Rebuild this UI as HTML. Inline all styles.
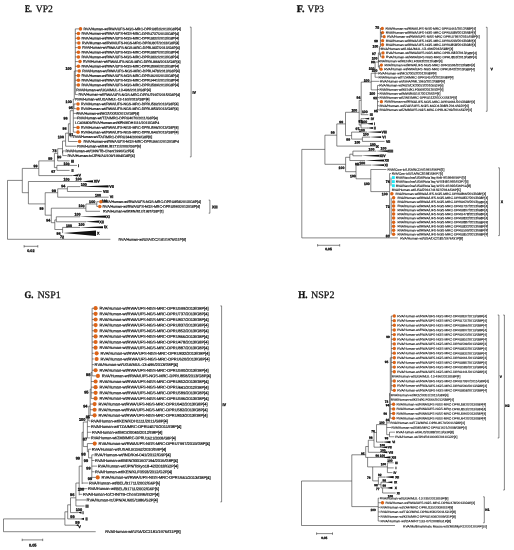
<!DOCTYPE html>
<html lang="en"><head><meta charset="utf-8"><title>Phylogenetic trees E-H</title>
<style>
html,body{margin:0;padding:0;background:#fff;}
body{width:514px;height:550px;overflow:hidden;font-family:"Liberation Sans",sans-serif;}
svg{display:block;font-family:"Liberation Sans",sans-serif;text-rendering:geometricPrecision;}
</style></head><body>
<svg width="514" height="550" viewBox="0 0 514 550">
<rect width="514" height="550" fill="#fff"/>
<text x="24.9" y="12.1" font-size="10" font-weight="700" font-family="Liberation Serif, serif" fill="#111" stroke="#111" stroke-width="0.35" textLength="7.0" lengthAdjust="spacingAndGlyphs">E.</text>
<text x="35.8" y="12.1" font-size="10" font-family="Liberation Serif, serif" fill="#111" stroke="#111" stroke-width="0.25" textLength="17.1" lengthAdjust="spacingAndGlyphs">VP2</text>
<path d="M75.30 28.90H79.00" stroke="#222" stroke-width="0.55" fill="none"/>
<circle cx="80.50" cy="28.90" r="1.78" fill="#DB6418"/>
<text transform="matrix(1 .0006 0 1 0 -0.050)" x="83.60" y="30.18" font-size="3.55" text-anchor="start" fill="#111" stroke="#111" stroke-width="0.18">RVA/Human-wt/RWA/UFS-NGS-MRC-DPRU852/2013/G8P[4]</text>
<path d="M75.30 33.57H76.90" stroke="#222" stroke-width="0.55" fill="none"/>
<circle cx="78.40" cy="33.57" r="1.78" fill="#DB6418"/>
<text transform="matrix(1 .0006 0 1 0 -0.049)" x="81.50" y="34.85" font-size="3.55" text-anchor="start" fill="#111" stroke="#111" stroke-width="0.18">RVA/Human-wt/RWA/UFS-NGS-MRC-DPRU737/2013/G8P[4]</text>
<path d="M75.30 38.24H76.90" stroke="#222" stroke-width="0.55" fill="none"/>
<circle cx="78.40" cy="38.24" r="1.78" fill="#DB6418"/>
<text transform="matrix(1 .0006 0 1 0 -0.049)" x="81.50" y="39.52" font-size="3.55" text-anchor="start" fill="#111" stroke="#111" stroke-width="0.18">RVA/Human-wt/RWA/UFS-NGS-MRC-DPRU832/2013/G8P[4]</text>
<path d="M75.30 42.91H77.30" stroke="#222" stroke-width="0.55" fill="none"/>
<circle cx="78.80" cy="42.91" r="1.78" fill="#DB6418"/>
<text transform="matrix(1 .0006 0 1 0 -0.049)" x="81.90" y="44.19" font-size="3.55" text-anchor="start" fill="#111" stroke="#111" stroke-width="0.18">RVA/Human-wt/RWA/UFS-NGS-MRC-DPRU807/2013/G8P[4]</text>
<path d="M75.30 47.58H77.70" stroke="#222" stroke-width="0.55" fill="none"/>
<circle cx="79.20" cy="47.58" r="1.78" fill="#DB6418"/>
<text transform="matrix(1 .0006 0 1 0 -0.049)" x="82.30" y="48.86" font-size="3.55" text-anchor="start" fill="#111" stroke="#111" stroke-width="0.18">RVA/Human-wt/RWA/UFS-NGS-MRC-DPRU837/2013/G8P[4]</text>
<path d="M75.30 52.25H76.90" stroke="#222" stroke-width="0.55" fill="none"/>
<circle cx="78.40" cy="52.25" r="1.78" fill="#DB6418"/>
<text transform="matrix(1 .0006 0 1 0 -0.049)" x="81.50" y="53.53" font-size="3.55" text-anchor="start" fill="#111" stroke="#111" stroke-width="0.18">RVA/Human-wt/RWA/UFS-NGS-MRC-DPRU887/2013/G8P[4]</text>
<path d="M75.30 56.92H76.90" stroke="#222" stroke-width="0.55" fill="none"/>
<circle cx="78.40" cy="56.92" r="1.78" fill="#DB6418"/>
<text transform="matrix(1 .0006 0 1 0 -0.049)" x="81.50" y="58.20" font-size="3.55" text-anchor="start" fill="#111" stroke="#111" stroke-width="0.18">RVA/Human-wt/RWA/UFS-NGS-MRC-DPRU832/2013/G8P[4]</text>
<path d="M75.30 61.59H78.50" stroke="#222" stroke-width="0.55" fill="none"/>
<circle cx="80.00" cy="61.59" r="1.78" fill="#DB6418"/>
<text transform="matrix(1 .0006 0 1 0 -0.050)" x="83.10" y="62.87" font-size="3.55" text-anchor="start" fill="#111" stroke="#111" stroke-width="0.18">RVA/Human-wt/RWA/UFS-NGS-MRC-DPRU866/2013/G8P[4]</text>
<path d="M75.30 66.26H76.90" stroke="#222" stroke-width="0.55" fill="none"/>
<circle cx="78.40" cy="66.26" r="1.78" fill="#DB6418"/>
<text transform="matrix(1 .0006 0 1 0 -0.049)" x="81.50" y="67.54" font-size="3.55" text-anchor="start" fill="#111" stroke="#111" stroke-width="0.18">RVA/Human-wt/RWA/UFS-NGS-MRC-DPRU599/2013/G8P[4]</text>
<path d="M75.30 70.93H77.70" stroke="#222" stroke-width="0.55" fill="none"/>
<circle cx="79.20" cy="70.93" r="1.78" fill="#DB6418"/>
<text transform="matrix(1 .0006 0 1 0 -0.049)" x="82.30" y="72.21" font-size="3.55" text-anchor="start" fill="#111" stroke="#111" stroke-width="0.18">RVA/Human-wt/RWA/UFS-NGS-MRC-DPRU478/2013/G8P[4]</text>
<path d="M75.30 75.60H76.90" stroke="#222" stroke-width="0.55" fill="none"/>
<circle cx="78.40" cy="75.60" r="1.78" fill="#DB6418"/>
<text transform="matrix(1 .0006 0 1 0 -0.049)" x="81.50" y="76.88" font-size="3.55" text-anchor="start" fill="#111" stroke="#111" stroke-width="0.18">RVA/Human-wt/RWA/UFS-NGS-MRC-DPRU620/2013/G8P[4]</text>
<path d="M75.30 80.27H76.90" stroke="#222" stroke-width="0.55" fill="none"/>
<circle cx="78.40" cy="80.27" r="1.78" fill="#DB6418"/>
<text transform="matrix(1 .0006 0 1 0 -0.049)" x="81.50" y="81.55" font-size="3.55" text-anchor="start" fill="#111" stroke="#111" stroke-width="0.18">RVA/Human-wt/RWA/UFS-NGS-MRC-DPRU441/2012/G8P[4]</text>
<path d="M75.30 84.94H76.90" stroke="#222" stroke-width="0.55" fill="none"/>
<circle cx="78.40" cy="84.94" r="1.78" fill="#DB6418"/>
<text transform="matrix(1 .0006 0 1 0 -0.049)" x="81.50" y="86.22" font-size="3.55" text-anchor="start" fill="#111" stroke="#111" stroke-width="0.18">RVA/Human-wt/RWA/UFS-NGS-MRC-DPRU589/2013/G8P[4]</text>
<path d="M75.30 28.90V94.59" stroke="#222" stroke-width="0.55" fill="none"/>
<text transform="matrix(1 .0006 0 1 0 -0.046)" x="76.30" y="91.18" font-size="3.55" text-anchor="start" fill="#111" stroke="#111" stroke-width="0.18">RVA/Human-wt/UGA/MUL-13-496/2013/G8P[4]</text>
<path d="M75.30 94.59H77.80" stroke="#222" stroke-width="0.55" fill="none"/>
<text transform="matrix(1 .0006 0 1 0 -0.047)" x="78.50" y="95.87" font-size="3.55" text-anchor="start" fill="#111" stroke="#111" stroke-width="0.18" textLength="101.5" lengthAdjust="spacingAndGlyphs">RVA/Human-wt/RWA/UFS-NGS-MRC-DPRU7997/2015/G8P[4]</text>
<text transform="matrix(1 .0006 0 1 0 -0.041)" x="68.50" y="69.83" font-size="3.7" font-weight="700" text-anchor="middle" fill="#111" stroke="#111" stroke-width="0.3">100</text>
<path d="M74.30 71.00H75.30" stroke="#222" stroke-width="0.55" fill="none"/>
<path d="M74.30 71.00V99.29" stroke="#222" stroke-width="0.55" fill="none"/>
<text transform="matrix(1 .0006 0 1 0 -0.045)" x="75.20" y="100.57" font-size="3.55" text-anchor="start" fill="#111" stroke="#111" stroke-width="0.18">RVA/Human-wt/UGA/MUL-13-160/2013/G8P[4]</text>
<path d="M73.30 99.29H74.30" stroke="#222" stroke-width="0.55" fill="none"/>
<path d="M73.30 99.29V132.15" stroke="#222" stroke-width="0.55" fill="none"/>
<path d="M74.00 103.98H76.50" stroke="#222" stroke-width="0.55" fill="none"/>
<circle cx="78.00" cy="103.98" r="1.78" fill="#DB6418"/>
<text transform="matrix(1 .0006 0 1 0 -0.049)" x="81.10" y="105.26" font-size="3.55" text-anchor="start" fill="#111" stroke="#111" stroke-width="0.18">RVA/Human-wt/RWA/UFS-NGS-MRC-DPRU582/2013/G8P[4]</text>
<path d="M74.00 108.68H76.50" stroke="#222" stroke-width="0.55" fill="none"/>
<circle cx="78.00" cy="108.68" r="1.78" fill="#DB6418"/>
<text transform="matrix(1 .0006 0 1 0 -0.049)" x="81.10" y="109.95" font-size="3.55" text-anchor="start" fill="#111" stroke="#111" stroke-width="0.18">RVA/Human-wt/RWA/UFS-NGS-MRC-DPRU853/2013/G8P[4]</text>
<path d="M74.00 103.98V108.68" stroke="#222" stroke-width="0.55" fill="none"/>
<path d="M73.30 113.37H78.00" stroke="#222" stroke-width="0.55" fill="none"/>
<text transform="matrix(1 .0006 0 1 0 -0.046)" x="76.50" y="114.65" font-size="3.55" text-anchor="start" fill="#111" stroke="#111" stroke-width="0.18">RVA/Human-wt/MOZ/0052/2012/G8P[4]</text>
<path d="M73.30 118.06H78.00" stroke="#222" stroke-width="0.55" fill="none"/>
<text transform="matrix(1 .0006 0 1 0 -0.046)" x="77.20" y="119.34" font-size="3.55" text-anchor="start" fill="#111" stroke="#111" stroke-width="0.18">RVA/Human-wt/TZA/MRC-DPRU4070/2011/G8P[4]</text>
<text transform="matrix(1 .0006 0 1 0 -0.045)" x="75.20" y="124.04" font-size="3.55" text-anchor="start" fill="#111" stroke="#111" stroke-width="0.18">LC406809/RVA/Human-wt/KEN/KDH1111/2011/G8P4</text>
<path d="M73.30 127.45H76.50" stroke="#222" stroke-width="0.55" fill="none"/>
<circle cx="78.00" cy="127.45" r="1.78" fill="#DB6418"/>
<text transform="matrix(1 .0006 0 1 0 -0.049)" x="81.10" y="128.73" font-size="3.55" text-anchor="start" fill="#111" stroke="#111" stroke-width="0.18">RVA/Human-wt/RWA/UFS-NGS-MRC-DPRU596/2013/G8P[4]</text>
<path d="M73.30 132.15H76.50" stroke="#222" stroke-width="0.55" fill="none"/>
<circle cx="78.00" cy="132.15" r="1.78" fill="#DB6418"/>
<text transform="matrix(1 .0006 0 1 0 -0.049)" x="81.10" y="133.42" font-size="3.55" text-anchor="start" fill="#111" stroke="#111" stroke-width="0.18">RVA/Human-wt/RWA/UFS-NGS-MRC-DPRU642/2013/G8P[4]</text>
<text transform="matrix(1 .0006 0 1 0 -0.041)" x="68.70" y="102.92" font-size="3.7" font-weight="700" text-anchor="middle" fill="#111" stroke="#111" stroke-width="0.3">100</text>
<text transform="matrix(1 .0006 0 1 0 -0.042)" x="70.70" y="109.01" font-size="3.7" font-weight="700" text-anchor="middle" fill="#111" stroke="#111" stroke-width="0.3">95</text>
<text transform="matrix(1 .0006 0 1 0 -0.039)" x="65.60" y="119.40" font-size="3.7" font-weight="700" text-anchor="middle" fill="#111" stroke="#111" stroke-width="0.3">96</text>
<text transform="matrix(1 .0006 0 1 0 -0.039)" x="64.50" y="129.78" font-size="3.7" font-weight="700" text-anchor="middle" fill="#111" stroke="#111" stroke-width="0.3">96</text>
<text transform="matrix(1 .0006 0 1 0 -0.043)" x="71.30" y="135.68" font-size="3.7" font-weight="700" text-anchor="middle" fill="#111" stroke="#111" stroke-width="0.3">91</text>
<text transform="matrix(1 .0006 0 1 0 -0.037)" x="60.90" y="138.17" font-size="3.7" font-weight="700" text-anchor="middle" fill="#111" stroke="#111" stroke-width="0.3">100</text>
<path d="M70.20 110.68H73.30" stroke="#222" stroke-width="0.55" fill="none"/>
<path d="M70.20 110.68V136.84" stroke="#222" stroke-width="0.55" fill="none"/>
<path d="M70.20 136.84H72.80" stroke="#222" stroke-width="0.55" fill="none"/>
<text transform="matrix(1 .0006 0 1 0 -0.044)" x="73.30" y="138.12" font-size="3.55" text-anchor="start" fill="#111" stroke="#111" stroke-width="0.18">RVA/Human-wt/ZAF/MRC-DPRU344/2009/G8P[6]</text>
<path d="M68.40 123.76H70.20" stroke="#222" stroke-width="0.55" fill="none"/>
<path d="M68.40 123.76V141.53" stroke="#222" stroke-width="0.55" fill="none"/>
<path d="M68.40 141.53H77.50" stroke="#222" stroke-width="0.55" fill="none"/>
<circle cx="79.60" cy="141.53" r="1.78" fill="#DB6418"/>
<text transform="matrix(1 .0006 0 1 0 -0.050)" x="83.50" y="142.81" font-size="3.55" text-anchor="start" fill="#111" stroke="#111" stroke-width="0.18">RVA/Human-wt/RWA/UFS-NGS-MRC-DPRU661/2013/G8P4</text>
<path d="M65.60 133.15H68.40" stroke="#222" stroke-width="0.55" fill="none"/>
<path d="M65.60 133.15V146.23" stroke="#222" stroke-width="0.55" fill="none"/>
<path d="M65.60 146.23H76.50" stroke="#222" stroke-width="0.55" fill="none"/>
<text transform="matrix(1 .0006 0 1 0 -0.046)" x="77.20" y="147.51" font-size="3.55" text-anchor="start" fill="#111" stroke="#111" stroke-width="0.18">RVA/Human-wt/BEL/B1711/2002/G6P[6]</text>
<path d="M62.50 141.03H65.60" stroke="#222" stroke-width="0.55" fill="none"/>
<path d="M62.50 141.03V153.22" stroke="#222" stroke-width="0.55" fill="none"/>
<path d="M62.50 153.22H62.70" stroke="#222" stroke-width="0.55" fill="none"/>
<path d="M62.70 150.92V155.62" stroke="#222" stroke-width="0.55" fill="none"/>
<path d="M62.70 150.92H64.80" stroke="#222" stroke-width="0.55" fill="none"/>
<text transform="matrix(1 .0006 0 1 0 -0.039)" x="65.40" y="152.20" font-size="3.55" text-anchor="start" fill="#111" stroke="#111" stroke-width="0.18">RVA/Human-wt/CHN/TB-Chen/1996/G2P[4]</text>
<path d="M62.70 155.62H66.80" stroke="#222" stroke-width="0.55" fill="none"/>
<text transform="matrix(1 .0006 0 1 0 -0.040)" x="67.40" y="156.89" font-size="3.55" text-anchor="start" fill="#111" stroke="#111" stroke-width="0.18" textLength="67.3" lengthAdjust="spacingAndGlyphs">RVA/Human-tc/JPN/AU109/1994/G8P[4]</text>
<text transform="matrix(1 .0006 0 1 0 -0.033)" x="54.40" y="152.13" font-size="3.7" font-weight="700" text-anchor="middle" fill="#111" stroke="#111" stroke-width="0.3">78</text>
<text transform="matrix(1 .0006 0 1 0 -0.036)" x="59.30" y="158.23" font-size="3.7" font-weight="700" text-anchor="middle" fill="#111" stroke="#111" stroke-width="0.3">99</text>
<path d="M57.70 148.73H62.50" stroke="#222" stroke-width="0.55" fill="none"/>
<path d="M57.70 148.73V160.90" stroke="#222" stroke-width="0.55" fill="none"/>
<path d="M57.70 160.90H69.70" stroke="#222" stroke-width="0.55" fill="none"/>
<text transform="matrix(1 .0006 0 1 0 -0.044)" x="72.60" y="162.63" font-size="3.7" font-weight="700" text-anchor="middle" fill="#111" stroke="#111" stroke-width="0.3">III</text>
<path d="M54.40 153.30H57.70" stroke="#222" stroke-width="0.55" fill="none"/>
<path d="M54.40 153.30V167.60" stroke="#222" stroke-width="0.55" fill="none"/>
<path d="M54.40 167.60H56.90" stroke="#222" stroke-width="0.55" fill="none"/>
<path d="M56.90 165.40V170.40" stroke="#222" stroke-width="0.55" fill="none"/>
<path d="M56.90 165.40H77.00" stroke="#222" stroke-width="0.55" fill="none"/>
<text transform="matrix(1 .0006 0 1 0 -0.047)" x="78.50" y="166.93" font-size="3.7" font-weight="700" text-anchor="middle" fill="#111" stroke="#111" stroke-width="0.3">I</text>
<path d="M56.90 170.40H69.60" stroke="#222" stroke-width="0.55" fill="none"/>
<text transform="matrix(1 .0006 0 1 0 -0.044)" x="72.60" y="171.73" font-size="3.7" font-weight="700" text-anchor="middle" fill="#111" stroke="#111" stroke-width="0.3">II</text>
<text transform="matrix(1 .0006 0 1 0 -0.040)" x="66.50" y="165.13" font-size="3.7" font-weight="700" text-anchor="middle" fill="#111" stroke="#111" stroke-width="0.3">100</text>
<text transform="matrix(1 .0006 0 1 0 -0.032)" x="53.30" y="172.83" font-size="3.7" font-weight="700" text-anchor="middle" fill="#111" stroke="#111" stroke-width="0.3">67</text>
<text transform="matrix(1 .0006 0 1 0 -0.030)" x="50.30" y="159.83" font-size="3.7" font-weight="700" text-anchor="middle" fill="#111" stroke="#111" stroke-width="0.3">99</text>
<path d="M38.80 160.90H54.40" stroke="#222" stroke-width="0.55" fill="none"/>
<path d="M38.80 160.90V175.60" stroke="#222" stroke-width="0.55" fill="none"/>
<path d="M38.80 175.60H72.00" stroke="#222" stroke-width="0.55" fill="none"/>
<path d="M71.50 175.60L78.20 174.32L78.20 176.48Z" fill="#111"/>
<text transform="matrix(1 .0006 0 1 0 -0.048)" x="79.80" y="176.53" font-size="3.7" font-weight="700" text-anchor="middle" fill="#111" stroke="#111" stroke-width="0.3">V</text>
<text transform="matrix(1 .0006 0 1 0 -0.021)" x="35.50" y="167.23" font-size="3.7" font-weight="700" text-anchor="middle" fill="#111" stroke="#111" stroke-width="0.3">99</text>
<text transform="matrix(1 .0006 0 1 0 -0.040)" x="66.50" y="180.63" font-size="3.7" font-weight="700" text-anchor="middle" fill="#111" stroke="#111" stroke-width="0.3">100</text>
<text transform="matrix(1 .0006 0 1 0 -0.047)" x="78.50" y="180.33" font-size="3.7" font-weight="700" text-anchor="middle" fill="#111" stroke="#111" stroke-width="0.3">100</text>
<path d="M22.30 168.40H38.80" stroke="#222" stroke-width="0.55" fill="none"/>
<path d="M22.30 168.40V192.70" stroke="#222" stroke-width="0.55" fill="none"/>
<path d="M7.50 180.40H22.30" stroke="#222" stroke-width="0.55" fill="none"/>
<path d="M7.50 180.40V239.30" stroke="#222" stroke-width="0.55" fill="none"/>
<path d="M7.50 239.30H110.40" stroke="#222" stroke-width="0.55" fill="none"/>
<text transform="matrix(1 .0006 0 1 0 -0.071)" x="118.60" y="240.78" font-size="3.55" text-anchor="start" fill="#111" stroke="#111" stroke-width="0.18">RVA/Human-wt/USA/DC2181/1976/G1P[8]</text>
<path d="M22.30 192.70H28.40" stroke="#222" stroke-width="0.55" fill="none"/>
<path d="M28.40 181.50V203.90" stroke="#222" stroke-width="0.55" fill="none"/>
<path d="M28.40 181.50H82.00" stroke="#222" stroke-width="0.55" fill="none"/>
<path d="M81.00 181.50L93.00 180.22L93.00 182.38Z" fill="#111"/>
<text transform="matrix(1 .0006 0 1 0 -0.058)" x="96.80" y="182.43" font-size="3.7" font-weight="700" text-anchor="middle" fill="#111" stroke="#111" stroke-width="0.3">XIV</text>
<text transform="matrix(1 .0006 0 1 0 -0.050)" x="83.80" y="185.73" font-size="3.7" font-weight="700" text-anchor="middle" fill="#111" stroke="#111" stroke-width="0.3">100</text>
<path d="M28.40 203.90H45.20" stroke="#222" stroke-width="0.55" fill="none"/>
<path d="M45.20 192.70V215.20" stroke="#222" stroke-width="0.55" fill="none"/>
<text transform="matrix(1 .0006 0 1 0 -0.025)" x="41.50" y="209.83" font-size="3.7" font-weight="700" text-anchor="middle" fill="#111" stroke="#111" stroke-width="0.3">99</text>
<path d="M45.20 192.70H57.70" stroke="#222" stroke-width="0.55" fill="none"/>
<path d="M57.70 188.80V197.20" stroke="#222" stroke-width="0.55" fill="none"/>
<text transform="matrix(1 .0006 0 1 0 -0.032)" x="53.90" y="192.03" font-size="3.7" font-weight="700" text-anchor="middle" fill="#111" stroke="#111" stroke-width="0.3">99</text>
<path d="M57.70 188.80H67.40" stroke="#222" stroke-width="0.55" fill="none"/>
<path d="M67.40 186.60V191.50" stroke="#222" stroke-width="0.55" fill="none"/>
<text transform="matrix(1 .0006 0 1 0 -0.038)" x="63.20" y="187.33" font-size="3.7" font-weight="700" text-anchor="middle" fill="#111" stroke="#111" stroke-width="0.3">94</text>
<path d="M67.40 186.60H80.00" stroke="#222" stroke-width="0.55" fill="none"/>
<path d="M79.00 186.60L108.60 185.32L108.60 187.48Z" fill="#111"/>
<text transform="matrix(1 .0006 0 1 0 -0.067)" x="111.60" y="187.73" font-size="3.7" font-weight="700" text-anchor="middle" fill="#111" stroke="#111" stroke-width="0.3">VII</text>
<path d="M67.40 191.50H101.80" stroke="#222" stroke-width="0.55" fill="none"/>
<text transform="matrix(1 .0006 0 1 0 -0.063)" x="105.70" y="192.73" font-size="3.7" font-weight="700" text-anchor="middle" fill="#111" stroke="#111" stroke-width="0.3">VIII</text>
<path d="M57.70 197.20H108.60" stroke="#222" stroke-width="0.55" fill="none"/>
<text transform="matrix(1 .0006 0 1 0 -0.067)" x="111.60" y="198.03" font-size="3.7" font-weight="700" text-anchor="middle" fill="#111" stroke="#111" stroke-width="0.3">VI</text>
<text transform="matrix(1 .0006 0 1 0 -0.059)" x="98.00" y="196.53" font-size="3.7" font-weight="700" text-anchor="middle" fill="#111" stroke="#111" stroke-width="0.3">100</text>
<path d="M45.20 215.20H51.30" stroke="#222" stroke-width="0.55" fill="none"/>
<path d="M51.30 208.20V222.70" stroke="#222" stroke-width="0.55" fill="none"/>
<text transform="matrix(1 .0006 0 1 0 -0.029)" x="48.30" y="221.63" font-size="3.7" font-weight="700" text-anchor="middle" fill="#111" stroke="#111" stroke-width="0.3">94</text>
<path d="M51.30 208.20H85.90" stroke="#222" stroke-width="0.55" fill="none"/>
<path d="M85.90 204.00V211.30" stroke="#222" stroke-width="0.55" fill="none"/>
<text transform="matrix(1 .0006 0 1 0 -0.049)" x="81.50" y="207.13" font-size="3.7" font-weight="700" text-anchor="middle" fill="#111" stroke="#111" stroke-width="0.3">100</text>
<path d="M85.90 204.00H96.80" stroke="#222" stroke-width="0.55" fill="none"/>
<path d="M96.80 201.70V206.50" stroke="#222" stroke-width="0.55" fill="none"/>
<text transform="matrix(1 .0006 0 1 0 -0.055)" x="92.20" y="203.03" font-size="3.7" font-weight="700" text-anchor="middle" fill="#111" stroke="#111" stroke-width="0.3">100</text>
<text transform="matrix(1 .0006 0 1 0 -0.063)" x="104.50" y="202.33" font-size="3.7" font-weight="700" text-anchor="middle" fill="#111" stroke="#111" stroke-width="0.3">100</text>
<path d="M96.80 201.70H99.00" stroke="#222" stroke-width="0.55" fill="none"/>
<circle cx="100.80" cy="201.70" r="1.78" fill="#DB6418"/>
<text transform="matrix(1 .0006 0 1 0 -0.062)" x="103.60" y="202.98" font-size="3.55" text-anchor="start" fill="#111" stroke="#111" stroke-width="0.18">RVA/Human-wt/RWA/UFS-NGS-MRC-DPRU858/2013/G8P[4]</text>
<path d="M96.80 206.50H98.00" stroke="#222" stroke-width="0.55" fill="none"/>
<circle cx="99.80" cy="206.50" r="1.78" fill="#DB6418"/>
<text transform="matrix(1 .0006 0 1 0 -0.062)" x="102.60" y="207.78" font-size="3.55" text-anchor="start" fill="#111" stroke="#111" stroke-width="0.18">RVA/Human-wt/RWA/UFS-NGS-MRC-DPRU590/2013/G8P[4]</text>
<path d="M85.90 211.30H100.00" stroke="#222" stroke-width="0.55" fill="none"/>
<text transform="matrix(1 .0006 0 1 0 -0.062)" x="103.00" y="212.48" font-size="3.55" text-anchor="start" fill="#111" stroke="#111" stroke-width="0.18">RVA/Human-wt/KEN/B12/1987/G8P[1]</text>
<path d="M208.70 200.10H209.90V213.20H208.70" stroke="#222" stroke-width="0.55" fill="none"/>
<text transform="matrix(1 .0006 0 1 0 -0.129)" x="214.80" y="208.23" font-size="3.7" font-weight="700" text-anchor="middle" fill="#111" stroke="#111" stroke-width="0.3">XIII</text>
<path d="M189.90 27.10H191.10V156.90H189.90" stroke="#222" stroke-width="0.55" fill="none"/>
<text transform="matrix(1 .0006 0 1 0 -0.117)" x="194.20" y="93.83" font-size="3.7" font-weight="700" text-anchor="middle" fill="#111" stroke="#111" stroke-width="0.3">IV</text>
<path d="M51.30 222.70H54.80" stroke="#222" stroke-width="0.55" fill="none"/>
<path d="M54.80 219.90V229.50" stroke="#222" stroke-width="0.55" fill="none"/>
<path d="M54.80 219.90H56.30" stroke="#222" stroke-width="0.55" fill="none"/>
<path d="M56.30 216.80V221.80" stroke="#222" stroke-width="0.55" fill="none"/>
<path d="M56.30 216.80H80.00" stroke="#222" stroke-width="0.55" fill="none"/>
<path d="M79.00 216.80L106.00 215.62L106.00 217.78Z" fill="#111"/>
<text transform="matrix(1 .0006 0 1 0 -0.065)" x="108.00" y="218.03" font-size="3.7" font-weight="700" text-anchor="middle" fill="#111" stroke="#111" stroke-width="0.3">XI</text>
<path d="M56.30 221.80H86.00" stroke="#222" stroke-width="0.55" fill="none"/>
<path d="M85.00 221.80L99.00 220.50L99.00 222.80Z" fill="#111"/>
<text transform="matrix(1 .0006 0 1 0 -0.061)" x="101.60" y="223.23" font-size="3.7" font-weight="700" text-anchor="middle" fill="#111" stroke="#111" stroke-width="0.3">XII</text>
<text transform="matrix(1 .0006 0 1 0 -0.046)" x="77.50" y="215.53" font-size="3.7" font-weight="700" text-anchor="middle" fill="#111" stroke="#111" stroke-width="0.3">100</text>
<text transform="matrix(1 .0006 0 1 0 -0.049)" x="81.50" y="225.83" font-size="3.7" font-weight="700" text-anchor="middle" fill="#111" stroke="#111" stroke-width="0.3">100</text>
<path d="M54.80 229.50H62.60" stroke="#222" stroke-width="0.55" fill="none"/>
<path d="M62.60 227.40V233.10" stroke="#222" stroke-width="0.55" fill="none"/>
<path d="M62.60 227.40H80.00" stroke="#222" stroke-width="0.55" fill="none"/>
<path d="M79.00 227.40L103.00 226.24L103.00 228.26Z" fill="#111"/>
<text transform="matrix(1 .0006 0 1 0 -0.063)" x="105.80" y="228.13" font-size="3.7" font-weight="700" text-anchor="middle" fill="#111" stroke="#111" stroke-width="0.3">IX</text>
<text transform="matrix(1 .0006 0 1 0 -0.041)" x="69.00" y="227.03" font-size="3.7" font-weight="700" text-anchor="middle" fill="#111" stroke="#111" stroke-width="0.3">100</text>
<path d="M63.30 233.10L96.00 230.40L96.00 235.90Z" fill="#111"/>
<text transform="matrix(1 .0006 0 1 0 -0.059)" x="98.30" y="234.43" font-size="3.7" font-weight="700" text-anchor="middle" fill="#111" stroke="#111" stroke-width="0.3">X</text>
<text transform="matrix(1 .0006 0 1 0 -0.035)" x="58.50" y="234.83" font-size="3.7" font-weight="700" text-anchor="middle" fill="#111" stroke="#111" stroke-width="0.3">96</text>
<text transform="matrix(1 .0006 0 1 0 -0.037)" x="62.00" y="238.13" font-size="3.7" font-weight="700" text-anchor="middle" fill="#111" stroke="#111" stroke-width="0.3">72</text>
<path d="M24.10 246.30H37.80" stroke="#222" stroke-width="0.55" fill="none"/>
<path d="M24.10 245.10V247.50" stroke="#222" stroke-width="0.55" fill="none"/>
<path d="M37.80 245.10V247.50" stroke="#222" stroke-width="0.55" fill="none"/>
<text transform="matrix(1 .0006 0 1 0 -0.019)" x="30.90" y="251.93" font-size="3.7" font-weight="700" text-anchor="middle" fill="#111" stroke="#111" stroke-width="0.3">0.02</text>
<text x="296.8" y="12.4" font-size="10" font-weight="700" font-family="Liberation Serif, serif" fill="#111" stroke="#111" stroke-width="0.35" textLength="7.7" lengthAdjust="spacingAndGlyphs">F.</text>
<text x="307.5" y="12.4" font-size="10" font-family="Liberation Serif, serif" fill="#111" stroke="#111" stroke-width="0.25" textLength="16.4" lengthAdjust="spacingAndGlyphs">VP3</text>
<circle cx="382.30" cy="28.50" r="1.65" fill="#DB6418"/>
<text transform="matrix(1 .0006 0 1 0 -0.231)" x="385.40" y="29.69" font-size="3.3" text-anchor="start" fill="#111" stroke="#111" stroke-width="0.13">RVA/Human-wt/RWA/UFS-NGS-MRC-DPRU441/2012/G8P[4]</text>
<circle cx="382.60" cy="32.56" r="1.65" fill="#DB6418"/>
<text transform="matrix(1 .0006 0 1 0 -0.231)" x="385.70" y="33.75" font-size="3.3" text-anchor="start" fill="#111" stroke="#111" stroke-width="0.13">RVA/Human-wt/RWA/UFS-NGS-MRC-DPRU589/2013/G8P[4]</text>
<circle cx="384.10" cy="36.63" r="1.65" fill="#DB6418"/>
<text transform="matrix(1 .0006 0 1 0 -0.232)" x="387.20" y="37.82" font-size="3.3" text-anchor="start" fill="#111" stroke="#111" stroke-width="0.13">RVA/Human-wt/RWA/UFS-NGS-MRC-DPRU7997/2015/G8P[4]</text>
<circle cx="382.60" cy="40.70" r="1.65" fill="#DB6418"/>
<text transform="matrix(1 .0006 0 1 0 -0.231)" x="385.70" y="41.88" font-size="3.3" text-anchor="start" fill="#111" stroke="#111" stroke-width="0.13">RVA/Human-wt/RWA/UFS-NGS-MRC-DPRU599/2013/G8P[4]</text>
<circle cx="382.60" cy="44.76" r="1.65" fill="#DB6418"/>
<text transform="matrix(1 .0006 0 1 0 -0.231)" x="385.70" y="45.95" font-size="3.3" text-anchor="start" fill="#111" stroke="#111" stroke-width="0.13">RVA/Human-wt/RWA/UFS-NGS-MRC-DPRU858/2013/G8P[4]</text>
<text transform="matrix(1 .0006 0 1 0 -0.228)" x="380.70" y="50.01" font-size="3.3" text-anchor="start" fill="#111" stroke="#111" stroke-width="0.13" textLength="72.6" lengthAdjust="spacingAndGlyphs">RVA/Human-wt/UGA/MUL-13-496/2013/G8P[4]</text>
<circle cx="383.00" cy="52.89" r="1.65" fill="#DB6418"/>
<text transform="matrix(1 .0006 0 1 0 -0.232)" x="386.10" y="54.08" font-size="3.3" text-anchor="start" fill="#111" stroke="#111" stroke-width="0.13">RVA/Human-wt/RWA/UFS-NGS-MRC-DPRU582/2013/G8P[4]</text>
<circle cx="383.00" cy="56.95" r="1.65" fill="#DB6418"/>
<text transform="matrix(1 .0006 0 1 0 -0.232)" x="386.10" y="58.14" font-size="3.3" text-anchor="start" fill="#111" stroke="#111" stroke-width="0.13">RVA/Human-wt/RWA/UFS-NGS-MRC-DPRU853/2013/G8P[4]</text>
<text transform="matrix(1 .0006 0 1 0 -0.227)" x="378.60" y="62.21" font-size="3.3" text-anchor="start" fill="#111" stroke="#111" stroke-width="0.13">RVA/Human-wt/KEN/KLF0593/2012/G8P[4]</text>
<circle cx="381.40" cy="65.09" r="1.65" fill="#DB6418"/>
<text transform="matrix(1 .0006 0 1 0 -0.231)" x="384.50" y="66.27" font-size="3.3" text-anchor="start" fill="#111" stroke="#111" stroke-width="0.13">RVA/Human-wt/RWA/UFS-NGS-MRC-DPRU596/2013/G8P[4]</text>
<circle cx="381.10" cy="69.15" r="1.65" fill="#DB6418"/>
<text transform="matrix(1 .0006 0 1 0 -0.231)" x="384.20" y="70.34" font-size="3.3" text-anchor="start" fill="#111" stroke="#111" stroke-width="0.13">RVA/Human-wt/RWA/UFS-NGS-MRC-DPRU642/2013/G8P[4]</text>
<text transform="matrix(1 .0006 0 1 0 -0.227)" x="378.20" y="74.40" font-size="3.3" text-anchor="start" fill="#111" stroke="#111" stroke-width="0.13">RVA/Human-wt/MOZ/0052/2012/G8P[4]</text>
<text transform="matrix(1 .0006 0 1 0 -0.227)" x="378.60" y="78.47" font-size="3.3" text-anchor="start" fill="#111" stroke="#111" stroke-width="0.13">RVA/Human-wt/TZA/MRC-DPRU4570/2011/G8P[4]</text>
<text transform="matrix(1 .0006 0 1 0 -0.228)" x="380.00" y="82.53" font-size="3.3" text-anchor="start" fill="#111" stroke="#111" stroke-width="0.13">RVA/Human-wt/GHA/PML1965/2012/G8P[6]</text>
<text transform="matrix(1 .0006 0 1 0 -0.228)" x="379.30" y="86.60" font-size="3.3" text-anchor="start" fill="#111" stroke="#111" stroke-width="0.13">RVA/Human-wt/AUS/CK20051/2010/G2P[4]</text>
<text transform="matrix(1 .0006 0 1 0 -0.228)" x="379.60" y="90.66" font-size="3.3" text-anchor="start" fill="#111" stroke="#111" stroke-width="0.13">RVA/Human-wt/KEN/KLF0569/2012/G2P[4]</text>
<text transform="matrix(1 .0006 0 1 0 -0.228)" x="379.60" y="94.73" font-size="3.3" text-anchor="start" fill="#111" stroke="#111" stroke-width="0.13">RVA/Human-wt/MWI/BID1IT/2012/G2P[4]</text>
<text transform="matrix(1 .0006 0 1 0 -0.228)" x="379.60" y="98.79" font-size="3.3" text-anchor="start" fill="#111" stroke="#111" stroke-width="0.13">RVA/Human-wt/ZWE/MRC-DPRU1132/XXXX/G2P[4]</text>
<circle cx="381.40" cy="101.67" r="1.65" fill="#DB6418"/>
<text transform="matrix(1 .0006 0 1 0 -0.231)" x="384.50" y="102.86" font-size="3.3" text-anchor="start" fill="#111" stroke="#111" stroke-width="0.13">RVA/Human-wt/RWA/UFS-NGS-MRC-DPRU661/2013/G8P[4]</text>
<text transform="matrix(1 .0006 0 1 0 -0.228)" x="379.60" y="106.92" font-size="3.3" text-anchor="start" fill="#111" stroke="#111" stroke-width="0.13" textLength="89.2" lengthAdjust="spacingAndGlyphs">RVA/Human-wt/ZAF/UFS-NGS-MCD1308/12014/G2P[4]</text>
<text transform="matrix(1 .0006 0 1 0 -0.228)" x="379.60" y="110.99" font-size="3.3" text-anchor="start" fill="#111" stroke="#111" stroke-width="0.13">RVA/Human-wt/ZMB/UFS-NGS-MRC-DPRUK749/2014/G2P[4]</text>
<path d="M485.90 27.30H487.10V111.30H485.90" stroke="#222" stroke-width="0.55" fill="none"/>
<text transform="matrix(1 .0006 0 1 0 -0.295)" x="491.60" y="70.26" font-size="3.5" font-weight="700" text-anchor="middle" fill="#111" stroke="#111" stroke-width="0.3">V</text>
<path d="M380.40 28.50V46.76" stroke="#222" stroke-width="0.55" fill="none"/>
<path d="M380.40 28.50H381.00" stroke="#222" stroke-width="0.55" fill="none"/>
<path d="M380.40 32.56H381.00" stroke="#222" stroke-width="0.55" fill="none"/>
<path d="M380.40 40.70H381.00" stroke="#222" stroke-width="0.55" fill="none"/>
<path d="M380.40 44.76H381.00" stroke="#222" stroke-width="0.55" fill="none"/>
<path d="M381.40 32.56V37.63" stroke="#222" stroke-width="0.55" fill="none"/>
<path d="M381.40 36.63H382.50" stroke="#222" stroke-width="0.55" fill="none"/>
<text transform="matrix(1 .0006 0 1 0 -0.226)" x="377.20" y="28.66" font-size="3.5" font-weight="700" text-anchor="middle" fill="#111" stroke="#111" stroke-width="0.3">75</text>
<text transform="matrix(1 .0006 0 1 0 -0.226)" x="376.10" y="42.16" font-size="3.5" font-weight="700" text-anchor="middle" fill="#111" stroke="#111" stroke-width="0.3">99</text>
<text transform="matrix(1 .0006 0 1 0 -0.225)" x="375.40" y="47.56" font-size="3.5" font-weight="700" text-anchor="middle" fill="#111" stroke="#111" stroke-width="0.3">100</text>
<path d="M379.40 46.76H380.40" stroke="#222" stroke-width="0.55" fill="none"/>
<path d="M379.40 46.76V54.89" stroke="#222" stroke-width="0.55" fill="none"/>
<path d="M379.40 48.83H381.00" stroke="#222" stroke-width="0.55" fill="none"/>
<path d="M380.60 52.89V56.95" stroke="#222" stroke-width="0.55" fill="none"/>
<path d="M380.60 52.89H381.40" stroke="#222" stroke-width="0.55" fill="none"/>
<path d="M380.60 56.95H381.40" stroke="#222" stroke-width="0.55" fill="none"/>
<path d="M379.40 54.89H380.60" stroke="#222" stroke-width="0.55" fill="none"/>
<text transform="matrix(1 .0006 0 1 0 -0.224)" x="373.90" y="55.06" font-size="3.5" font-weight="700" text-anchor="middle" fill="#111" stroke="#111" stroke-width="0.3">97</text>
<text transform="matrix(1 .0006 0 1 0 -0.225)" x="374.60" y="59.46" font-size="3.5" font-weight="700" text-anchor="middle" fill="#111" stroke="#111" stroke-width="0.3">100</text>
<path d="M378.40 52.89H379.40" stroke="#222" stroke-width="0.55" fill="none"/>
<path d="M378.40 52.89V67.09" stroke="#222" stroke-width="0.55" fill="none"/>
<path d="M378.40 61.02H379.00" stroke="#222" stroke-width="0.55" fill="none"/>
<path d="M379.40 65.09V69.15" stroke="#222" stroke-width="0.55" fill="none"/>
<path d="M378.40 67.09H379.40" stroke="#222" stroke-width="0.55" fill="none"/>
<text transform="matrix(1 .0006 0 1 0 -0.224)" x="373.00" y="63.36" font-size="3.5" font-weight="700" text-anchor="middle" fill="#111" stroke="#111" stroke-width="0.3">99</text>
<text transform="matrix(1 .0006 0 1 0 -0.223)" x="371.60" y="69.76" font-size="3.5" font-weight="700" text-anchor="middle" fill="#111" stroke="#111" stroke-width="0.3">100</text>
<text transform="matrix(1 .0006 0 1 0 -0.225)" x="374.60" y="71.66" font-size="3.5" font-weight="700" text-anchor="middle" fill="#111" stroke="#111" stroke-width="0.3">100</text>
<path d="M375.10 62.02H378.40" stroke="#222" stroke-width="0.55" fill="none"/>
<path d="M375.10 62.02V77.28" stroke="#222" stroke-width="0.55" fill="none"/>
<path d="M375.10 73.22H377.80" stroke="#222" stroke-width="0.55" fill="none"/>
<path d="M375.10 77.28H378.20" stroke="#222" stroke-width="0.55" fill="none"/>
<path d="M371.20 73.22H375.10" stroke="#222" stroke-width="0.55" fill="none"/>
<path d="M371.20 73.22V89.90" stroke="#222" stroke-width="0.55" fill="none"/>
<path d="M371.20 81.34H379.40" stroke="#222" stroke-width="0.55" fill="none"/>
<text transform="matrix(1 .0006 0 1 0 -0.220)" x="366.60" y="81.66" font-size="3.5" font-weight="700" text-anchor="middle" fill="#111" stroke="#111" stroke-width="0.3">100</text>
<path d="M371.20 89.90H377.50" stroke="#222" stroke-width="0.55" fill="none"/>
<path d="M377.50 85.41V109.80" stroke="#222" stroke-width="0.55" fill="none"/>
<path d="M377.50 85.41H379.00" stroke="#222" stroke-width="0.55" fill="none"/>
<path d="M377.50 89.48H379.00" stroke="#222" stroke-width="0.55" fill="none"/>
<path d="M377.50 93.54H379.00" stroke="#222" stroke-width="0.55" fill="none"/>
<path d="M377.50 97.61H379.00" stroke="#222" stroke-width="0.55" fill="none"/>
<path d="M377.50 101.67H379.00" stroke="#222" stroke-width="0.55" fill="none"/>
<path d="M377.50 105.74H379.00" stroke="#222" stroke-width="0.55" fill="none"/>
<path d="M377.50 109.80H379.00" stroke="#222" stroke-width="0.55" fill="none"/>
<text transform="matrix(1 .0006 0 1 0 -0.223)" x="372.30" y="94.76" font-size="3.5" font-weight="700" text-anchor="middle" fill="#111" stroke="#111" stroke-width="0.3">100</text>
<text transform="matrix(1 .0006 0 1 0 -0.225)" x="375.10" y="99.26" font-size="3.5" font-weight="700" text-anchor="middle" fill="#111" stroke="#111" stroke-width="0.3">93</text>
<text transform="matrix(1 .0006 0 1 0 -0.226)" x="375.90" y="112.16" font-size="3.5" font-weight="700" text-anchor="middle" fill="#111" stroke="#111" stroke-width="0.3">95</text>
<path d="M361.20 82.10H371.20" stroke="#222" stroke-width="0.55" fill="none"/>
<path d="M361.20 82.10V114.80" stroke="#222" stroke-width="0.55" fill="none"/>
<text transform="matrix(1 .0006 0 1 0 -0.215)" x="358.50" y="98.66" font-size="3.5" font-weight="700" text-anchor="middle" fill="#111" stroke="#111" stroke-width="0.3">94</text>
<path d="M359.20 100.30H361.20" stroke="#222" stroke-width="0.55" fill="none"/>
<path d="M359.20 100.30V125.10" stroke="#222" stroke-width="0.55" fill="none"/>
<text transform="matrix(1 .0006 0 1 0 -0.219)" x="364.80" y="112.96" font-size="3.5" font-weight="700" text-anchor="middle" fill="#111" stroke="#111" stroke-width="0.3">100</text>
<path d="M361.20 114.70H368.30" stroke="#222" stroke-width="0.55" fill="none"/>
<text transform="matrix(1 .0006 0 1 0 -0.223)" x="371.30" y="115.86" font-size="3.5" font-weight="700" text-anchor="middle" fill="#111" stroke="#111" stroke-width="0.3">III</text>
<path d="M359.20 125.10H361.00" stroke="#222" stroke-width="0.55" fill="none"/>
<path d="M361.00 118.70V128.00" stroke="#222" stroke-width="0.55" fill="none"/>
<path d="M361.00 118.70H364.00" stroke="#222" stroke-width="0.55" fill="none"/>
<path d="M363.00 118.70L369.20 117.80L369.20 119.60Z" fill="#111"/>
<text transform="matrix(1 .0006 0 1 0 -0.223)" x="372.40" y="119.96" font-size="3.5" font-weight="700" text-anchor="middle" fill="#111" stroke="#111" stroke-width="0.3">IV</text>
<path d="M361.00 123.70H366.50" stroke="#222" stroke-width="0.55" fill="none"/>
<path d="M365.50 123.70L372.90 122.70L372.90 124.70Z" fill="#111"/>
<text transform="matrix(1 .0006 0 1 0 -0.225)" x="374.50" y="124.96" font-size="3.5" font-weight="700" text-anchor="middle" fill="#111" stroke="#111" stroke-width="0.3">I</text>
<path d="M361.00 128.00H368.00" stroke="#222" stroke-width="0.55" fill="none"/>
<path d="M367.00 128.00L372.90 127.00L372.90 129.00Z" fill="#111"/>
<text transform="matrix(1 .0006 0 1 0 -0.225)" x="374.80" y="129.26" font-size="3.5" font-weight="700" text-anchor="middle" fill="#111" stroke="#111" stroke-width="0.3">II</text>
<text transform="matrix(1 .0006 0 1 0 -0.216)" x="360.50" y="122.46" font-size="3.5" font-weight="700" text-anchor="middle" fill="#111" stroke="#111" stroke-width="0.3">81</text>
<text transform="matrix(1 .0006 0 1 0 -0.219)" x="364.30" y="123.06" font-size="3.5" font-weight="700" text-anchor="middle" fill="#111" stroke="#111" stroke-width="0.3">100</text>
<text transform="matrix(1 .0006 0 1 0 -0.214)" x="357.40" y="129.96" font-size="3.5" font-weight="700" text-anchor="middle" fill="#111" stroke="#111" stroke-width="0.3">97</text>
<path d="M345.50 112.30H359.20" stroke="#222" stroke-width="0.55" fill="none"/>
<path d="M345.50 112.30V135.60" stroke="#222" stroke-width="0.55" fill="none"/>
<text transform="matrix(1 .0006 0 1 0 -0.213)" x="354.30" y="111.56" font-size="3.5" font-weight="700" text-anchor="middle" fill="#111" stroke="#111" stroke-width="0.3">100</text>
<text transform="matrix(1 .0006 0 1 0 -0.205)" x="341.20" y="123.36" font-size="3.5" font-weight="700" text-anchor="middle" fill="#111" stroke="#111" stroke-width="0.3">99</text>
<path d="M336.80 123.90H345.50" stroke="#222" stroke-width="0.55" fill="none"/>
<path d="M336.80 123.90V146.10" stroke="#222" stroke-width="0.55" fill="none"/>
<path d="M345.50 135.60H351.60" stroke="#222" stroke-width="0.55" fill="none"/>
<path d="M351.60 132.10V139.10" stroke="#222" stroke-width="0.55" fill="none"/>
<text transform="matrix(1 .0006 0 1 0 -0.209)" x="348.20" y="140.86" font-size="3.5" font-weight="700" text-anchor="middle" fill="#111" stroke="#111" stroke-width="0.3">99</text>
<path d="M351.60 132.10H367.00" stroke="#222" stroke-width="0.55" fill="none"/>
<path d="M366.00 132.10L381.10 131.20L381.10 133.00Z" fill="#111"/>
<text transform="matrix(1 .0006 0 1 0 -0.231)" x="384.20" y="133.36" font-size="3.5" font-weight="700" text-anchor="middle" fill="#111" stroke="#111" stroke-width="0.3">VIII</text>
<text transform="matrix(1 .0006 0 1 0 -0.217)" x="362.00" y="131.56" font-size="3.5" font-weight="700" text-anchor="middle" fill="#111" stroke="#111" stroke-width="0.3">100</text>
<text transform="matrix(1 .0006 0 1 0 -0.219)" x="365.80" y="135.46" font-size="3.5" font-weight="700" text-anchor="middle" fill="#111" stroke="#111" stroke-width="0.3">100</text>
<path d="M351.60 139.10H362.40" stroke="#222" stroke-width="0.55" fill="none"/>
<path d="M362.40 137.10V141.40" stroke="#222" stroke-width="0.55" fill="none"/>
<path d="M362.40 137.10H370.00" stroke="#222" stroke-width="0.55" fill="none"/>
<path d="M369.00 137.10L381.10 136.20L381.10 138.00Z" fill="#111"/>
<text transform="matrix(1 .0006 0 1 0 -0.230)" x="384.00" y="138.36" font-size="3.5" font-weight="700" text-anchor="middle" fill="#111" stroke="#111" stroke-width="0.3">VI</text>
<path d="M362.40 141.40H384.60" stroke="#222" stroke-width="0.55" fill="none"/>
<text transform="matrix(1 .0006 0 1 0 -0.233)" x="388.10" y="142.66" font-size="3.5" font-weight="700" text-anchor="middle" fill="#111" stroke="#111" stroke-width="0.3">VII</text>
<text transform="matrix(1 .0006 0 1 0 -0.214)" x="357.40" y="143.46" font-size="3.5" font-weight="700" text-anchor="middle" fill="#111" stroke="#111" stroke-width="0.3">100</text>
<path d="M336.80 146.10H375.30" stroke="#222" stroke-width="0.55" fill="none"/>
<text transform="matrix(1 .0006 0 1 0 -0.226)" x="377.30" y="147.76" font-size="3.5" font-weight="700" text-anchor="middle" fill="#111" stroke="#111" stroke-width="0.3">IX</text>
<text transform="matrix(1 .0006 0 1 0 -0.224)" x="372.90" y="145.76" font-size="3.5" font-weight="700" text-anchor="middle" fill="#111" stroke="#111" stroke-width="0.3">100</text>
<path d="M324.90 135.20H336.80" stroke="#222" stroke-width="0.55" fill="none"/>
<path d="M324.90 135.20V164.30" stroke="#222" stroke-width="0.55" fill="none"/>
<text transform="matrix(1 .0006 0 1 0 -0.200)" x="332.70" y="133.86" font-size="3.5" font-weight="700" text-anchor="middle" fill="#111" stroke="#111" stroke-width="0.3">99</text>
<path d="M301.80 149.40H324.90" stroke="#222" stroke-width="0.55" fill="none"/>
<path d="M301.80 149.40V237.90" stroke="#222" stroke-width="0.55" fill="none"/>
<path d="M301.80 237.90H398.00" stroke="#222" stroke-width="0.55" fill="none"/>
<text transform="matrix(1 .0006 0 1 0 -0.240)" x="400.30" y="239.39" font-size="3.3" text-anchor="start" fill="#111" stroke="#111" stroke-width="0.13">RVA/Human-wt/USA/DC2181/1976/G1P[8]</text>
<path d="M324.90 164.30H345.60" stroke="#222" stroke-width="0.55" fill="none"/>
<path d="M345.60 157.30V171.70" stroke="#222" stroke-width="0.55" fill="none"/>
<text transform="matrix(1 .0006 0 1 0 -0.205)" x="341.50" y="169.06" font-size="3.5" font-weight="700" text-anchor="middle" fill="#111" stroke="#111" stroke-width="0.3">100</text>
<path d="M345.60 157.30H349.80" stroke="#222" stroke-width="0.55" fill="none"/>
<path d="M349.80 154.20V160.50" stroke="#222" stroke-width="0.55" fill="none"/>
<path d="M349.80 154.20H352.90" stroke="#222" stroke-width="0.55" fill="none"/>
<path d="M352.90 151.10V155.80" stroke="#222" stroke-width="0.55" fill="none"/>
<path d="M352.90 151.10H376.00" stroke="#222" stroke-width="0.55" fill="none"/>
<path d="M375.00 151.10L387.90 150.30L387.90 151.90Z" fill="#111"/>
<text transform="matrix(1 .0006 0 1 0 -0.234)" x="390.50" y="152.16" font-size="3.5" font-weight="700" text-anchor="middle" fill="#111" stroke="#111" stroke-width="0.3">XIII</text>
<text transform="matrix(1 .0006 0 1 0 -0.223)" x="371.50" y="150.56" font-size="3.5" font-weight="700" text-anchor="middle" fill="#111" stroke="#111" stroke-width="0.3">100</text>
<text transform="matrix(1 .0006 0 1 0 -0.230)" x="383.50" y="149.56" font-size="3.5" font-weight="700" text-anchor="middle" fill="#111" stroke="#111" stroke-width="0.3">100</text>
<path d="M352.90 155.80H362.00" stroke="#222" stroke-width="0.55" fill="none"/>
<path d="M361.00 155.80L379.60 154.80L379.60 156.70Z" fill="#111"/>
<text transform="matrix(1 .0006 0 1 0 -0.230)" x="382.70" y="157.06" font-size="3.5" font-weight="700" text-anchor="middle" fill="#111" stroke="#111" stroke-width="0.3">XIV</text>
<path d="M349.80 160.50H365.00" stroke="#222" stroke-width="0.55" fill="none"/>
<path d="M364.00 160.50L384.00 159.60L384.00 161.40Z" fill="#111"/>
<text transform="matrix(1 .0006 0 1 0 -0.232)" x="386.60" y="161.46" font-size="3.5" font-weight="700" text-anchor="middle" fill="#111" stroke="#111" stroke-width="0.3">XII</text>
<path d="M345.60 171.70H356.00" stroke="#222" stroke-width="0.55" fill="none"/>
<path d="M356.00 165.10V178.80" stroke="#222" stroke-width="0.55" fill="none"/>
<path d="M356.00 165.10H371.00" stroke="#222" stroke-width="0.55" fill="none"/>
<path d="M370.00 165.10L384.00 164.20L384.00 166.00Z" fill="#111"/>
<text transform="matrix(1 .0006 0 1 0 -0.232)" x="386.20" y="166.16" font-size="3.5" font-weight="700" text-anchor="middle" fill="#111" stroke="#111" stroke-width="0.3">XI</text>
<text transform="matrix(1 .0006 0 1 0 -0.217)" x="362.20" y="164.16" font-size="3.5" font-weight="700" text-anchor="middle" fill="#111" stroke="#111" stroke-width="0.3">100</text>
<text transform="matrix(1 .0006 0 1 0 -0.214)" x="356.90" y="165.26" font-size="3.5" font-weight="700" text-anchor="middle" fill="#111" stroke="#111" stroke-width="0.3">98</text>
<text transform="matrix(1 .0006 0 1 0 -0.212)" x="352.90" y="177.26" font-size="3.5" font-weight="700" text-anchor="middle" fill="#111" stroke="#111" stroke-width="0.3">100</text>
<path d="M356.00 178.80H370.80" stroke="#222" stroke-width="0.55" fill="none"/>
<path d="M370.80 169.40V191.60" stroke="#222" stroke-width="0.55" fill="none"/>
<text transform="matrix(1 .0006 0 1 0 -0.220)" x="366.90" y="185.06" font-size="3.5" font-weight="700" text-anchor="middle" fill="#111" stroke="#111" stroke-width="0.3">100</text>
<path d="M370.80 169.50H386.40" stroke="#222" stroke-width="0.55" fill="none"/>
<text transform="matrix(1 .0006 0 1 0 -0.233)" x="387.60" y="170.69" font-size="3.3" text-anchor="start" fill="#111" stroke="#111" stroke-width="0.13">RVA/Cow-tc/USA/NCDV/1967/G6P6[1]</text>
<path d="M370.80 191.60H389.60" stroke="#222" stroke-width="0.55" fill="none"/>
<path d="M389.60 173.55V235.80" stroke="#222" stroke-width="0.55" fill="none"/>
<path d="M389.60 173.55H391.00" stroke="#222" stroke-width="0.55" fill="none"/>
<text transform="matrix(1 .0006 0 1 0 -0.235)" x="391.70" y="174.74" font-size="3.3" text-anchor="start" fill="#111" stroke="#111" stroke-width="0.13" textLength="51.5" lengthAdjust="spacingAndGlyphs">RVA/Cow-tc/USA/WC3/1981/G6P7[5]</text>
<rect x="391.90" y="176.15" width="2.90" height="2.90" fill="#1FE6F4"/>
<text transform="matrix(1 .0006 0 1 0 -0.237)" x="395.70" y="178.79" font-size="3.3" text-anchor="start" fill="#111" stroke="#111" stroke-width="0.13">RVA/Vaccine/USA/RotaTeq-BrB-9/1996/G4P7[5]</text>
<rect x="391.90" y="180.20" width="2.90" height="2.90" fill="#1FE6F4"/>
<text transform="matrix(1 .0006 0 1 0 -0.237)" x="395.70" y="182.84" font-size="3.3" text-anchor="start" fill="#111" stroke="#111" stroke-width="0.13">RVA/Vaccine/USA/RotaTeq-WI78-8/1992/G3P7[5]</text>
<rect x="391.90" y="184.25" width="2.90" height="2.90" fill="#1FE6F4"/>
<text transform="matrix(1 .0006 0 1 0 -0.237)" x="395.70" y="186.89" font-size="3.3" text-anchor="start" fill="#111" stroke="#111" stroke-width="0.13">RVA/Vaccine/USA/RotaTeq-WI79-4/1992/G6P1A[8]</text>
<path d="M391.00 177.60V185.70" stroke="#222" stroke-width="0.55" fill="none"/>
<text transform="matrix(1 .0006 0 1 0 -0.233)" x="387.80" y="182.86" font-size="3.5" font-weight="700" text-anchor="middle" fill="#111" stroke="#111" stroke-width="0.3">74</text>
<text transform="matrix(1 .0006 0 1 0 -0.235)" x="391.80" y="190.94" font-size="3.3" text-anchor="start" fill="#111" stroke="#111" stroke-width="0.13">RVA/Human-wt/USA/2014741597/2014/G6P[5]</text>
<circle cx="391.90" cy="193.80" r="1.75" fill="#DB6418"/>
<text transform="matrix(1 .0006 0 1 0 -0.237)" x="395.60" y="194.99" font-size="3.3" text-anchor="start" fill="#111" stroke="#111" stroke-width="0.13">RVA/Human-wt/RWA/UFS-NGS-MRC-DPRU866/2013/G8P[4]</text>
<circle cx="393.60" cy="197.85" r="1.75" fill="#DB6418"/>
<text transform="matrix(1 .0006 0 1 0 -0.239)" x="397.60" y="199.04" font-size="3.3" text-anchor="start" fill="#111" stroke="#111" stroke-width="0.13">RVA/Human-wt/RWA/UFS-NGS-MRC-DPRU837/2013/G8P[4]</text>
<circle cx="393.60" cy="201.90" r="1.75" fill="#DB6418"/>
<text transform="matrix(1 .0006 0 1 0 -0.239)" x="397.60" y="203.09" font-size="3.3" text-anchor="start" fill="#111" stroke="#111" stroke-width="0.13">RVA/Human-wt/RWA/UFS-NGS-MRC-DPRU620/2013/G8P[4]</text>
<circle cx="393.60" cy="205.95" r="1.75" fill="#DB6418"/>
<text transform="matrix(1 .0006 0 1 0 -0.239)" x="397.60" y="207.14" font-size="3.3" text-anchor="start" fill="#111" stroke="#111" stroke-width="0.13">RVA/Human-wt/RWA/UFS-NGS-MRC-DPRU737/2013/G8P[4]</text>
<circle cx="393.60" cy="210.00" r="1.75" fill="#DB6418"/>
<text transform="matrix(1 .0006 0 1 0 -0.239)" x="397.60" y="211.19" font-size="3.3" text-anchor="start" fill="#111" stroke="#111" stroke-width="0.13">RVA/Human-wt/RWA/UFS-NGS-MRC-DPRU807/2013/G8P[4]</text>
<circle cx="393.60" cy="214.05" r="1.75" fill="#DB6418"/>
<text transform="matrix(1 .0006 0 1 0 -0.239)" x="397.60" y="215.24" font-size="3.3" text-anchor="start" fill="#111" stroke="#111" stroke-width="0.13">RVA/Human-wt/RWA/UFS-NGS-MRC-DPRU478/2013/G8P[4]</text>
<circle cx="393.60" cy="218.10" r="1.75" fill="#DB6418"/>
<text transform="matrix(1 .0006 0 1 0 -0.239)" x="397.60" y="219.29" font-size="3.3" text-anchor="start" fill="#111" stroke="#111" stroke-width="0.13">RVA/Human-wt/RWA/UFS-NGS-MRC-DPRU832/2013/G8P[4]</text>
<circle cx="393.60" cy="222.15" r="1.75" fill="#DB6418"/>
<text transform="matrix(1 .0006 0 1 0 -0.239)" x="397.60" y="223.34" font-size="3.3" text-anchor="start" fill="#111" stroke="#111" stroke-width="0.13">RVA/Human-wt/RWA/UFS-NGS-MRC-DPRU887/2013/G8P[4]</text>
<circle cx="393.60" cy="226.20" r="1.75" fill="#DB6418"/>
<text transform="matrix(1 .0006 0 1 0 -0.239)" x="397.60" y="227.39" font-size="3.3" text-anchor="start" fill="#111" stroke="#111" stroke-width="0.13">RVA/Human-wt/RWA/UFS-NGS-MRC-DPRU832/2013/G8P[4]</text>
<circle cx="393.60" cy="230.25" r="1.75" fill="#DB6418"/>
<text transform="matrix(1 .0006 0 1 0 -0.239)" x="397.60" y="231.44" font-size="3.3" text-anchor="start" fill="#111" stroke="#111" stroke-width="0.13">RVA/Human-wt/RWA/UFS-NGS-MRC-DPRU599/2013/G8P[4]</text>
<circle cx="393.60" cy="234.30" r="1.75" fill="#DB6418"/>
<text transform="matrix(1 .0006 0 1 0 -0.239)" x="397.60" y="235.49" font-size="3.3" text-anchor="start" fill="#111" stroke="#111" stroke-width="0.13">RVA/Human-wt/RWA/UFS-NGS-MRC-DPRU852/2013/G8P[4]</text>
<path d="M391.20 197.85V234.30" stroke="#222" stroke-width="0.55" fill="none"/>
<text transform="matrix(1 .0006 0 1 0 -0.231)" x="384.70" y="195.16" font-size="3.5" font-weight="700" text-anchor="middle" fill="#111" stroke="#111" stroke-width="0.3">100</text>
<text transform="matrix(1 .0006 0 1 0 -0.233)" x="387.80" y="207.66" font-size="3.5" font-weight="700" text-anchor="middle" fill="#111" stroke="#111" stroke-width="0.3">72</text>
<text transform="matrix(1 .0006 0 1 0 -0.233)" x="387.80" y="237.36" font-size="3.5" font-weight="700" text-anchor="middle" fill="#111" stroke="#111" stroke-width="0.3">83</text>
<path d="M498.20 167.80H499.40V235.60H498.20" stroke="#222" stroke-width="0.55" fill="none"/>
<text transform="matrix(1 .0006 0 1 0 -0.301)" x="501.80" y="202.96" font-size="3.5" font-weight="700" text-anchor="middle" fill="#111" stroke="#111" stroke-width="0.3">X</text>
<path d="M317.60 245.30H339.70" stroke="#222" stroke-width="0.55" fill="none"/>
<path d="M317.60 244.10V246.50" stroke="#222" stroke-width="0.55" fill="none"/>
<path d="M339.70 244.10V246.50" stroke="#222" stroke-width="0.55" fill="none"/>
<text transform="matrix(1 .0006 0 1 0 -0.197)" x="328.60" y="250.36" font-size="3.5" font-weight="700" text-anchor="middle" fill="#111" stroke="#111" stroke-width="0.3">0.05</text>
<text x="24.5" y="297.9" font-size="10" font-weight="700" font-family="Liberation Serif, serif" fill="#111" stroke="#111" stroke-width="0.35" textLength="8.9" lengthAdjust="spacingAndGlyphs">G.</text>
<text x="37.4" y="297.9" font-size="10" font-family="Liberation Serif, serif" fill="#111" stroke="#111" stroke-width="0.25" textLength="23.3" lengthAdjust="spacingAndGlyphs">NSP1</text>
<circle cx="95.60" cy="308.20" r="2.08" fill="#DB6418"/>
<text transform="matrix(1 .0006 0 1 0 -0.060)" x="99.50" y="309.63" font-size="3.98" text-anchor="start" fill="#111" stroke="#111" stroke-width="0.18">RVA/Human-wt/RWA/UFS-NGS-MRC-DPRU599/2013/G8P[4]</text>
<circle cx="95.60" cy="313.84" r="2.08" fill="#DB6418"/>
<text transform="matrix(1 .0006 0 1 0 -0.060)" x="99.50" y="315.27" font-size="3.98" text-anchor="start" fill="#111" stroke="#111" stroke-width="0.18">RVA/Human-wt/RWA/UFS-NGS-MRC-DPRU737/2013/G8P[4]</text>
<circle cx="95.60" cy="319.48" r="2.08" fill="#DB6418"/>
<text transform="matrix(1 .0006 0 1 0 -0.060)" x="99.50" y="320.91" font-size="3.98" text-anchor="start" fill="#111" stroke="#111" stroke-width="0.18">RVA/Human-wt/RWA/UFS-NGS-MRC-DPRU807/2013/G8P[4]</text>
<circle cx="95.60" cy="325.12" r="2.08" fill="#DB6418"/>
<text transform="matrix(1 .0006 0 1 0 -0.060)" x="99.50" y="326.55" font-size="3.98" text-anchor="start" fill="#111" stroke="#111" stroke-width="0.18">RVA/Human-wt/RWA/UFS-NGS-MRC-DPRU837/2013/G8P[4]</text>
<circle cx="95.60" cy="330.76" r="2.08" fill="#DB6418"/>
<text transform="matrix(1 .0006 0 1 0 -0.060)" x="99.50" y="332.19" font-size="3.98" text-anchor="start" fill="#111" stroke="#111" stroke-width="0.18">RVA/Human-wt/RWA/UFS-NGS-MRC-DPRU852/2013/G8P[4]</text>
<circle cx="95.60" cy="336.40" r="2.08" fill="#DB6418"/>
<text transform="matrix(1 .0006 0 1 0 -0.060)" x="99.50" y="337.83" font-size="3.98" text-anchor="start" fill="#111" stroke="#111" stroke-width="0.18">RVA/Human-wt/RWA/UFS-NGS-MRC-DPRU866/2013/G8P[4]</text>
<circle cx="95.60" cy="342.04" r="2.08" fill="#DB6418"/>
<text transform="matrix(1 .0006 0 1 0 -0.060)" x="99.50" y="343.47" font-size="3.98" text-anchor="start" fill="#111" stroke="#111" stroke-width="0.18">RVA/Human-wt/RWA/UFS-NGS-MRC-DPRU478/2013/G8P[4]</text>
<circle cx="95.60" cy="347.68" r="2.08" fill="#DB6418"/>
<text transform="matrix(1 .0006 0 1 0 -0.060)" x="99.50" y="349.11" font-size="3.98" text-anchor="start" fill="#111" stroke="#111" stroke-width="0.18">RVA/Human-wt/RWA/UFS-NGS-MRC-DPRU887/2013/G8P[4]</text>
<circle cx="96.60" cy="353.32" r="2.08" fill="#DB6418"/>
<text transform="matrix(1 .0006 0 1 0 -0.060)" x="100.50" y="354.75" font-size="3.98" text-anchor="start" fill="#111" stroke="#111" stroke-width="0.18">RVA/Human-wt/RWA/UFS-NGS-MRC-DPRU832/2013/G8P[4]</text>
<circle cx="96.60" cy="358.96" r="2.08" fill="#DB6418"/>
<text transform="matrix(1 .0006 0 1 0 -0.060)" x="100.50" y="360.39" font-size="3.98" text-anchor="start" fill="#111" stroke="#111" stroke-width="0.18">RVA/Human-wt/RWA/UFS-NGS-MRC-DPRU620/2013/G8P[4]</text>
<text transform="matrix(1 .0006 0 1 0 -0.057)" x="94.60" y="366.03" font-size="3.98" text-anchor="start" fill="#111" stroke="#111" stroke-width="0.18">RVA/Human-wt/UGA/MUL-13-496/2013/G8P[4]</text>
<circle cx="95.60" cy="370.24" r="2.08" fill="#DB6418"/>
<text transform="matrix(1 .0006 0 1 0 -0.060)" x="99.50" y="371.67" font-size="3.98" text-anchor="start" fill="#111" stroke="#111" stroke-width="0.18">RVA/Human-wt/RWA/UFS-NGS-MRC-DPRU590/2013/G8P[4]</text>
<circle cx="97.90" cy="375.88" r="2.08" fill="#DB6418"/>
<text transform="matrix(1 .0006 0 1 0 -0.061)" x="101.80" y="377.31" font-size="3.98" text-anchor="start" fill="#111" stroke="#111" stroke-width="0.18">RVA/Human-wt/RWA/UFS-NGS-MRC-DPRU858/2013/G8P[4]</text>
<circle cx="95.60" cy="381.52" r="2.08" fill="#DB6418"/>
<text transform="matrix(1 .0006 0 1 0 -0.060)" x="99.50" y="382.95" font-size="3.98" text-anchor="start" fill="#111" stroke="#111" stroke-width="0.18">RVA/Human-wt/RWA/UFS-NGS-MRC-DPRU852/2013/G8P[4]</text>
<circle cx="95.60" cy="387.16" r="2.08" fill="#DB6418"/>
<text transform="matrix(1 .0006 0 1 0 -0.060)" x="99.50" y="388.59" font-size="3.98" text-anchor="start" fill="#111" stroke="#111" stroke-width="0.18">RVA/Human-wt/RWA/UFS-NGS-MRC-DPRU441/2012/G8P[4]</text>
<circle cx="95.60" cy="392.80" r="2.08" fill="#DB6418"/>
<text transform="matrix(1 .0006 0 1 0 -0.060)" x="99.50" y="394.23" font-size="3.98" text-anchor="start" fill="#111" stroke="#111" stroke-width="0.18">RVA/Human-wt/RWA/UFS-NGS-MRC-DPRU589/2013/G8P[4]</text>
<circle cx="95.60" cy="398.44" r="2.08" fill="#DB6418"/>
<text transform="matrix(1 .0006 0 1 0 -0.060)" x="99.50" y="399.87" font-size="3.98" text-anchor="start" fill="#111" stroke="#111" stroke-width="0.18">RVA/Human-wt/RWA/UFS-NGS-MRC-DPRU596/2013/G8P[4]</text>
<circle cx="94.60" cy="404.08" r="2.08" fill="#DB6418"/>
<text transform="matrix(1 .0006 0 1 0 -0.059)" x="98.50" y="405.51" font-size="3.98" text-anchor="start" fill="#111" stroke="#111" stroke-width="0.18">RVA/Human-wt/RWA/UFS-NGS-MRC-DPRU642/2013/G8P[4]</text>
<circle cx="94.60" cy="409.72" r="2.08" fill="#DB6418"/>
<text transform="matrix(1 .0006 0 1 0 -0.059)" x="98.50" y="411.15" font-size="3.98" text-anchor="start" fill="#111" stroke="#111" stroke-width="0.18">RVA/Human-wt/RWA/UFS-NGS-MRC-DPRU582/2013/G8P[4]</text>
<circle cx="94.60" cy="415.36" r="2.08" fill="#DB6418"/>
<text transform="matrix(1 .0006 0 1 0 -0.059)" x="98.50" y="416.79" font-size="3.98" text-anchor="start" fill="#111" stroke="#111" stroke-width="0.18">RVA/Human-wt/RWA/UFS-NGS-MRC-DPRU853/2013/G8P[4]</text>
<text transform="matrix(1 .0006 0 1 0 -0.055)" x="91.10" y="422.43" font-size="3.98" text-anchor="start" fill="#111" stroke="#111" stroke-width="0.18">RVA/Human-wt/KEN/KDH1111/2011/G8P[4]</text>
<text transform="matrix(1 .0006 0 1 0 -0.055)" x="91.10" y="428.07" font-size="3.98" text-anchor="start" fill="#111" stroke="#111" stroke-width="0.18">RVA/Human-wt/TZA/MRC-DPRU4570/2011/G8P[4]</text>
<text transform="matrix(1 .0006 0 1 0 -0.055)" x="92.10" y="433.71" font-size="3.98" text-anchor="start" fill="#111" stroke="#111" stroke-width="0.18">RVA/Human-wt/MOZ/0045/2012/G8P[4]</text>
<text transform="matrix(1 .0006 0 1 0 -0.055)" x="91.10" y="439.35" font-size="3.98" text-anchor="start" fill="#111" stroke="#111" stroke-width="0.18" textLength="84.8" lengthAdjust="spacingAndGlyphs">RVA/Human-wt/ZMB/MRC-DPRU1621/2008/G8P[4]</text>
<circle cx="94.70" cy="443.56" r="2.08" fill="#DB6418"/>
<text transform="matrix(1 .0006 0 1 0 -0.059)" x="98.60" y="444.99" font-size="3.98" text-anchor="start" fill="#111" stroke="#111" stroke-width="0.18">RVA/Human-wt/RWA/UFS-NGS-MRC-DPRU7997/2015/G8P[4]</text>
<text transform="matrix(1 .0006 0 1 0 -0.055)" x="91.80" y="450.63" font-size="3.98" text-anchor="start" fill="#111" stroke="#111" stroke-width="0.18">RVA/Human-wt/USA/LB1562/2010/G9P[4]</text>
<text transform="matrix(1 .0006 0 1 0 -0.057)" x="94.40" y="456.27" font-size="3.98" text-anchor="start" fill="#111" stroke="#111" stroke-width="0.18" textLength="76.3" lengthAdjust="spacingAndGlyphs">RVA/Human-wt/IND/Kol-041/2012/G9P[4]</text>
<text transform="matrix(1 .0006 0 1 0 -0.057)" x="95.10" y="461.91" font-size="3.98" text-anchor="start" fill="#111" stroke="#111" stroke-width="0.18">RVA/Human-wt/BEN/3001607194/2016/G8P[4]</text>
<text transform="matrix(1 .0006 0 1 0 -0.059)" x="97.70" y="467.55" font-size="3.98" text-anchor="start" fill="#111" stroke="#111" stroke-width="0.18">RVA/Human-wt/JPN/Tokyo18-42/2018/G2P[4]</text>
<text transform="matrix(1 .0006 0 1 0 -0.057)" x="95.10" y="473.19" font-size="3.98" text-anchor="start" fill="#111" stroke="#111" stroke-width="0.18">RVA/Human-wt/KEN/KLF0593/2012/G2P[4]</text>
<circle cx="97.70" cy="477.40" r="2.08" fill="#DB6418"/>
<text transform="matrix(1 .0006 0 1 0 -0.061)" x="101.60" y="478.83" font-size="3.98" text-anchor="start" fill="#111" stroke="#111" stroke-width="0.18">RVA/Human-wt/RWA/UFS-NGS-MRC-DPRU661/2013/G8P[4]</text>
<text transform="matrix(1 .0006 0 1 0 -0.053)" x="88.90" y="484.47" font-size="3.98" text-anchor="start" fill="#111" stroke="#111" stroke-width="0.18">RVA/Human-wt/BEL/B1711/2002/G6P[6]</text>
<text transform="matrix(1 .0006 0 1 0 -0.053)" x="87.90" y="490.11" font-size="3.98" text-anchor="start" fill="#111" stroke="#111" stroke-width="0.18">RVA/Human-wt/BEL/B1711/2002/G6P[6]</text>
<text transform="matrix(1 .0006 0 1 0 -0.050)" x="83.10" y="495.75" font-size="3.98" text-anchor="start" fill="#111" stroke="#111" stroke-width="0.18">RVA/Human-tc/CHN/TB-Chen/1996/G2P[4]</text>
<text transform="matrix(1 .0006 0 1 0 -0.052)" x="86.60" y="501.39" font-size="3.98" text-anchor="start" fill="#111" stroke="#111" stroke-width="0.18">RVA/Human-tc/JPN/AU605/1986/G2P[4]</text>
<path d="M220.40 305.90H221.60V501.90H220.40" stroke="#222" stroke-width="0.55" fill="none"/>
<text transform="matrix(1 .0006 0 1 0 -0.135)" x="224.30" y="405.90" font-size="3.9" font-weight="700" text-anchor="middle" fill="#111" stroke="#111" stroke-width="0.3">IV</text>
<path d="M92.10 308.20V375.88" stroke="#222" stroke-width="0.55" fill="none"/>
<path d="M92.10 308.20H93.80" stroke="#222" stroke-width="0.55" fill="none"/>
<path d="M92.10 313.84H93.80" stroke="#222" stroke-width="0.55" fill="none"/>
<path d="M92.10 319.48H93.80" stroke="#222" stroke-width="0.55" fill="none"/>
<path d="M92.10 325.12H93.80" stroke="#222" stroke-width="0.55" fill="none"/>
<path d="M92.10 330.76H93.80" stroke="#222" stroke-width="0.55" fill="none"/>
<path d="M92.10 336.40H93.80" stroke="#222" stroke-width="0.55" fill="none"/>
<path d="M92.10 342.04H93.80" stroke="#222" stroke-width="0.55" fill="none"/>
<path d="M92.10 347.68H93.80" stroke="#222" stroke-width="0.55" fill="none"/>
<path d="M92.10 353.32H93.80" stroke="#222" stroke-width="0.55" fill="none"/>
<path d="M92.10 358.96H93.80" stroke="#222" stroke-width="0.55" fill="none"/>
<path d="M92.10 370.24H93.80" stroke="#222" stroke-width="0.55" fill="none"/>
<path d="M92.10 364.60H94.00" stroke="#222" stroke-width="0.55" fill="none"/>
<path d="M92.10 375.88H96.00" stroke="#222" stroke-width="0.55" fill="none"/>
<text transform="matrix(1 .0006 0 1 0 -0.053)" x="88.20" y="376.00" font-size="3.9" font-weight="700" text-anchor="middle" fill="#111" stroke="#111" stroke-width="0.3">98</text>
<path d="M91.20 372.24H92.10" stroke="#222" stroke-width="0.55" fill="none"/>
<path d="M91.20 372.24V398.44" stroke="#222" stroke-width="0.55" fill="none"/>
<path d="M91.20 381.52H93.80" stroke="#222" stroke-width="0.55" fill="none"/>
<path d="M91.20 387.16H93.80" stroke="#222" stroke-width="0.55" fill="none"/>
<path d="M91.20 392.80H93.80" stroke="#222" stroke-width="0.55" fill="none"/>
<path d="M91.20 398.44H93.80" stroke="#222" stroke-width="0.55" fill="none"/>
<text transform="matrix(1 .0006 0 1 0 -0.052)" x="86.30" y="393.50" font-size="3.9" font-weight="700" text-anchor="middle" fill="#111" stroke="#111" stroke-width="0.3">95</text>
<path d="M90.20 389.16H91.20" stroke="#222" stroke-width="0.55" fill="none"/>
<path d="M90.20 389.16V415.36" stroke="#222" stroke-width="0.55" fill="none"/>
<path d="M90.20 404.08H92.80" stroke="#222" stroke-width="0.55" fill="none"/>
<path d="M90.20 409.72H92.80" stroke="#222" stroke-width="0.55" fill="none"/>
<path d="M90.20 415.36H92.80" stroke="#222" stroke-width="0.55" fill="none"/>
<text transform="matrix(1 .0006 0 1 0 -0.051)" x="85.30" y="407.50" font-size="3.9" font-weight="700" text-anchor="middle" fill="#111" stroke="#111" stroke-width="0.3">94</text>
<text transform="matrix(1 .0006 0 1 0 -0.053)" x="87.80" y="418.20" font-size="3.9" font-weight="700" text-anchor="middle" fill="#111" stroke="#111" stroke-width="0.3">85</text>
<path d="M88.80 406.08H90.20" stroke="#222" stroke-width="0.55" fill="none"/>
<path d="M88.80 406.08V421.00" stroke="#222" stroke-width="0.55" fill="none"/>
<path d="M88.80 421.00H90.50" stroke="#222" stroke-width="0.55" fill="none"/>
<text transform="matrix(1 .0006 0 1 0 -0.049)" x="82.20" y="420.70" font-size="3.9" font-weight="700" text-anchor="middle" fill="#111" stroke="#111" stroke-width="0.3">100</text>
<path d="M87.40 417.36H88.80" stroke="#222" stroke-width="0.55" fill="none"/>
<path d="M87.40 417.36V437.92" stroke="#222" stroke-width="0.55" fill="none"/>
<path d="M87.40 426.64H90.30" stroke="#222" stroke-width="0.55" fill="none"/>
<path d="M87.40 432.28H91.30" stroke="#222" stroke-width="0.55" fill="none"/>
<path d="M87.40 437.92H90.30" stroke="#222" stroke-width="0.55" fill="none"/>
<text transform="matrix(1 .0006 0 1 0 -0.051)" x="84.90" y="440.40" font-size="3.9" font-weight="700" text-anchor="middle" fill="#111" stroke="#111" stroke-width="0.3">87</text>
<path d="M83.30 422.00H87.40" stroke="#222" stroke-width="0.55" fill="none"/>
<path d="M83.30 422.00V446.56" stroke="#222" stroke-width="0.55" fill="none"/>
<path d="M83.30 446.56H87.40" stroke="#222" stroke-width="0.55" fill="none"/>
<path d="M87.40 443.56V451.70" stroke="#222" stroke-width="0.55" fill="none"/>
<path d="M87.40 443.56H92.80" stroke="#222" stroke-width="0.55" fill="none"/>
<path d="M87.40 451.70H88.60" stroke="#222" stroke-width="0.55" fill="none"/>
<path d="M88.60 449.20V457.84" stroke="#222" stroke-width="0.55" fill="none"/>
<path d="M88.60 449.20H91.20" stroke="#222" stroke-width="0.55" fill="none"/>
<path d="M88.60 457.84H91.80" stroke="#222" stroke-width="0.55" fill="none"/>
<path d="M91.80 454.84V471.76" stroke="#222" stroke-width="0.55" fill="none"/>
<path d="M91.80 454.84H93.80" stroke="#222" stroke-width="0.55" fill="none"/>
<path d="M91.80 460.48H94.50" stroke="#222" stroke-width="0.55" fill="none"/>
<path d="M91.80 466.12H97.10" stroke="#222" stroke-width="0.55" fill="none"/>
<path d="M91.80 471.76H94.50" stroke="#222" stroke-width="0.55" fill="none"/>
<path d="M91.80 477.40H95.80" stroke="#222" stroke-width="0.55" fill="none"/>
<path d="M91.80 471.76V477.40" stroke="#222" stroke-width="0.55" fill="none"/>
<text transform="matrix(1 .0006 0 1 0 -0.050)" x="83.50" y="455.60" font-size="3.9" font-weight="700" text-anchor="middle" fill="#111" stroke="#111" stroke-width="0.3">98</text>
<text transform="matrix(1 .0006 0 1 0 -0.047)" x="77.80" y="459.50" font-size="3.9" font-weight="700" text-anchor="middle" fill="#111" stroke="#111" stroke-width="0.3">99</text>
<text transform="matrix(1 .0006 0 1 0 -0.052)" x="86.00" y="462.00" font-size="3.9" font-weight="700" text-anchor="middle" fill="#111" stroke="#111" stroke-width="0.3">99</text>
<text transform="matrix(1 .0006 0 1 0 -0.053)" x="88.50" y="469.60" font-size="3.9" font-weight="700" text-anchor="middle" fill="#111" stroke="#111" stroke-width="0.3">99</text>
<text transform="matrix(1 .0006 0 1 0 -0.054)" x="89.90" y="479.90" font-size="3.9" font-weight="700" text-anchor="middle" fill="#111" stroke="#111" stroke-width="0.3">99</text>
<path d="M82.10 432.28H83.30" stroke="#222" stroke-width="0.55" fill="none"/>
<path d="M82.10 432.28V484.04" stroke="#222" stroke-width="0.55" fill="none"/>
<path d="M82.10 483.04H88.30" stroke="#222" stroke-width="0.55" fill="none"/>
<path d="M79.20 466.12H82.10" stroke="#222" stroke-width="0.55" fill="none"/>
<path d="M79.20 466.12V495.32" stroke="#222" stroke-width="0.55" fill="none"/>
<path d="M79.20 488.68H87.30" stroke="#222" stroke-width="0.55" fill="none"/>
<text transform="matrix(1 .0006 0 1 0 -0.049)" x="80.90" y="490.60" font-size="3.9" font-weight="700" text-anchor="middle" fill="#111" stroke="#111" stroke-width="0.3">100</text>
<text transform="matrix(1 .0006 0 1 0 -0.043)" x="72.20" y="496.00" font-size="3.9" font-weight="700" text-anchor="middle" fill="#111" stroke="#111" stroke-width="0.3">96</text>
<path d="M79.20 494.32H82.30" stroke="#222" stroke-width="0.55" fill="none"/>
<path d="M75.90 483.04H79.20" stroke="#222" stroke-width="0.55" fill="none"/>
<path d="M75.90 483.04V506.00" stroke="#222" stroke-width="0.55" fill="none"/>
<path d="M75.90 499.96H86.00" stroke="#222" stroke-width="0.55" fill="none"/>
<path d="M75.90 506.00H84.50" stroke="#222" stroke-width="0.55" fill="none"/>
<text transform="matrix(1 .0006 0 1 0 -0.052)" x="87.00" y="507.40" font-size="3.9" font-weight="700" text-anchor="middle" fill="#111" stroke="#111" stroke-width="0.3">III</text>
<path d="M70.50 497.80H75.90" stroke="#222" stroke-width="0.55" fill="none"/>
<path d="M70.50 497.80V512.60" stroke="#222" stroke-width="0.55" fill="none"/>
<path d="M70.50 512.60H78.20" stroke="#222" stroke-width="0.55" fill="none"/>
<path d="M78.00 512.60L81.50 511.52L81.50 513.68Z" fill="#111"/>
<text transform="matrix(1 .0006 0 1 0 -0.050)" x="83.00" y="514.00" font-size="3.9" font-weight="700" text-anchor="middle" fill="#111" stroke="#111" stroke-width="0.3">I</text>
<text transform="matrix(1 .0006 0 1 0 -0.047)" x="78.90" y="511.00" font-size="3.9" font-weight="700" text-anchor="middle" fill="#111" stroke="#111" stroke-width="0.3">100</text>
<path d="M67.70 504.80H70.50" stroke="#222" stroke-width="0.55" fill="none"/>
<path d="M67.70 504.80V518.90" stroke="#222" stroke-width="0.55" fill="none"/>
<path d="M67.70 518.90H80.60" stroke="#222" stroke-width="0.55" fill="none"/>
<path d="M80.00 518.90L84.00 517.82L84.00 519.98Z" fill="#111"/>
<text transform="matrix(1 .0006 0 1 0 -0.052)" x="86.50" y="520.30" font-size="3.9" font-weight="700" text-anchor="middle" fill="#111" stroke="#111" stroke-width="0.3">II</text>
<text transform="matrix(1 .0006 0 1 0 -0.043)" x="72.40" y="517.90" font-size="3.9" font-weight="700" text-anchor="middle" fill="#111" stroke="#111" stroke-width="0.3">99</text>
<path d="M64.90 511.80H67.70" stroke="#222" stroke-width="0.55" fill="none"/>
<path d="M64.90 511.80V525.20" stroke="#222" stroke-width="0.55" fill="none"/>
<path d="M64.90 525.20H75.90" stroke="#222" stroke-width="0.55" fill="none"/>
<path d="M75.50 525.20L78.40 524.12L78.40 526.28Z" fill="#111"/>
<text transform="matrix(1 .0006 0 1 0 -0.048)" x="79.50" y="528.00" font-size="3.9" font-weight="700" text-anchor="middle" fill="#111" stroke="#111" stroke-width="0.3">V</text>
<text transform="matrix(1 .0006 0 1 0 -0.046)" x="77.50" y="523.80" font-size="3.9" font-weight="700" text-anchor="middle" fill="#111" stroke="#111" stroke-width="0.3">99</text>
<path d="M3.50 518.90H64.90" stroke="#222" stroke-width="0.55" fill="none"/>
<path d="M3.50 518.90V531.70" stroke="#222" stroke-width="0.55" fill="none"/>
<path d="M3.50 531.70H95.70" stroke="#222" stroke-width="0.55" fill="none"/>
<text transform="matrix(1 .0006 0 1 0 -0.063)" x="105.30" y="533.03" font-size="3.98" text-anchor="start" fill="#111" stroke="#111" stroke-width="0.18">RVA/Human-wt/USA/DC2181/1976/G1P[8]</text>
<path d="M22.20 539.90H42.70" stroke="#222" stroke-width="0.55" fill="none"/>
<path d="M22.20 538.70V541.10" stroke="#222" stroke-width="0.55" fill="none"/>
<path d="M42.70 538.70V541.10" stroke="#222" stroke-width="0.55" fill="none"/>
<text transform="matrix(1 .0006 0 1 0 -0.020)" x="32.70" y="546.40" font-size="3.9" font-weight="700" text-anchor="middle" fill="#111" stroke="#111" stroke-width="0.3">0.05</text>
<text x="298.2" y="297.6" font-size="10" font-weight="700" font-family="Liberation Serif, serif" fill="#111" stroke="#111" stroke-width="0.35" textLength="9.3" lengthAdjust="spacingAndGlyphs">H.</text>
<text x="311" y="297.6" font-size="10" font-family="Liberation Serif, serif" fill="#111" stroke="#111" stroke-width="0.25" textLength="23.4" lengthAdjust="spacingAndGlyphs">NSP2</text>
<circle cx="394.30" cy="316.00" r="1.7" fill="#DB6418"/>
<text transform="matrix(1 .0006 0 1 0 -0.238)" x="397.20" y="317.18" font-size="3.27" text-anchor="start" fill="#111" stroke="#111" stroke-width="0.12">RVA/Human-wt/RWA/UFS-NGS-MRC-DPRU837/2013/G8P[4]</text>
<circle cx="394.30" cy="320.65" r="1.7" fill="#DB6418"/>
<text transform="matrix(1 .0006 0 1 0 -0.238)" x="397.20" y="321.82" font-size="3.27" text-anchor="start" fill="#111" stroke="#111" stroke-width="0.12">RVA/Human-wt/RWA/UFS-NGS-MRC-DPRU737/2013/G8P[4]</text>
<circle cx="394.30" cy="325.29" r="1.7" fill="#DB6418"/>
<text transform="matrix(1 .0006 0 1 0 -0.238)" x="397.20" y="326.47" font-size="3.27" text-anchor="start" fill="#111" stroke="#111" stroke-width="0.12">RVA/Human-wt/RWA/UFS-NGS-MRC-DPRU866/2013/G8P[4]</text>
<circle cx="394.30" cy="329.94" r="1.7" fill="#DB6418"/>
<text transform="matrix(1 .0006 0 1 0 -0.238)" x="397.20" y="331.12" font-size="3.27" text-anchor="start" fill="#111" stroke="#111" stroke-width="0.12">RVA/Human-wt/RWA/UFS-NGS-MRC-DPRU807/2013/G8P[4]</text>
<circle cx="394.30" cy="334.58" r="1.7" fill="#DB6418"/>
<text transform="matrix(1 .0006 0 1 0 -0.238)" x="397.20" y="335.76" font-size="3.27" text-anchor="start" fill="#111" stroke="#111" stroke-width="0.12">RVA/Human-wt/RWA/UFS-NGS-MRC-DPRU620/2013/G8P[4]</text>
<circle cx="394.30" cy="339.23" r="1.7" fill="#DB6418"/>
<text transform="matrix(1 .0006 0 1 0 -0.238)" x="397.20" y="340.41" font-size="3.27" text-anchor="start" fill="#111" stroke="#111" stroke-width="0.12">RVA/Human-wt/RWA/UFS-NGS-MRC-DPRU852/2013/G8P[4]</text>
<circle cx="394.30" cy="343.88" r="1.7" fill="#DB6418"/>
<text transform="matrix(1 .0006 0 1 0 -0.238)" x="397.20" y="345.05" font-size="3.27" text-anchor="start" fill="#111" stroke="#111" stroke-width="0.12">RVA/Human-wt/RWA/UFS-NGS-MRC-DPRU599/2013/G8P[4]</text>
<circle cx="394.30" cy="348.52" r="1.7" fill="#DB6418"/>
<text transform="matrix(1 .0006 0 1 0 -0.238)" x="397.20" y="349.70" font-size="3.27" text-anchor="start" fill="#111" stroke="#111" stroke-width="0.12">RVA/Human-wt/RWA/UFS-NGS-MRC-DPRU832/2013/G8P[4]</text>
<circle cx="394.30" cy="353.17" r="1.7" fill="#DB6418"/>
<text transform="matrix(1 .0006 0 1 0 -0.238)" x="397.20" y="354.35" font-size="3.27" text-anchor="start" fill="#111" stroke="#111" stroke-width="0.12">RVA/Human-wt/RWA/UFS-NGS-MRC-DPRU832/2013/G8P[4]</text>
<circle cx="394.30" cy="357.81" r="1.7" fill="#DB6418"/>
<text transform="matrix(1 .0006 0 1 0 -0.238)" x="397.20" y="358.99" font-size="3.27" text-anchor="start" fill="#111" stroke="#111" stroke-width="0.12">RVA/Human-wt/RWA/UFS-NGS-MRC-DPRU661/2013/G8P[4]</text>
<circle cx="394.30" cy="362.46" r="1.7" fill="#DB6418"/>
<text transform="matrix(1 .0006 0 1 0 -0.238)" x="397.20" y="363.64" font-size="3.27" text-anchor="start" fill="#111" stroke="#111" stroke-width="0.12">RVA/Human-wt/RWA/UFS-NGS-MRC-DPRU887/2013/G8P[4]</text>
<circle cx="394.30" cy="367.11" r="1.7" fill="#DB6418"/>
<text transform="matrix(1 .0006 0 1 0 -0.238)" x="397.20" y="368.28" font-size="3.27" text-anchor="start" fill="#111" stroke="#111" stroke-width="0.12">RVA/Human-wt/RWA/UFS-NGS-MRC-DPRU589/2013/G8P[4]</text>
<circle cx="394.30" cy="371.75" r="1.7" fill="#DB6418"/>
<text transform="matrix(1 .0006 0 1 0 -0.238)" x="397.20" y="372.93" font-size="3.27" text-anchor="start" fill="#111" stroke="#111" stroke-width="0.12">RVA/Human-wt/RWA/UFS-NGS-MRC-DPRU441/2012/G8P[4]</text>
<text transform="matrix(1 .0006 0 1 0 -0.235)" x="391.80" y="377.58" font-size="3.27" text-anchor="start" fill="#111" stroke="#111" stroke-width="0.12">RVA/Human-wt/UGA/MUL-13-496/2013/G8P[4]</text>
<circle cx="394.30" cy="381.04" r="1.7" fill="#DB6418"/>
<text transform="matrix(1 .0006 0 1 0 -0.238)" x="397.20" y="382.22" font-size="3.27" text-anchor="start" fill="#111" stroke="#111" stroke-width="0.12">RVA/Human-wt/RWA/UFS-NGS-MRC-DPRU7997/2015/G8P[4]</text>
<circle cx="394.30" cy="385.69" r="1.7" fill="#DB6418"/>
<text transform="matrix(1 .0006 0 1 0 -0.238)" x="397.20" y="386.87" font-size="3.27" text-anchor="start" fill="#111" stroke="#111" stroke-width="0.12">RVA/Human-wt/RWA/UFS-NGS-MRC-DPRU590/2013/G8P[4]</text>
<circle cx="394.30" cy="390.34" r="1.7" fill="#DB6418"/>
<text transform="matrix(1 .0006 0 1 0 -0.238)" x="397.20" y="391.51" font-size="3.27" text-anchor="start" fill="#111" stroke="#111" stroke-width="0.12">RVA/Human-wt/RWA/UFS-NGS-MRC-DPRU858/2013/G8P[4]</text>
<text transform="matrix(1 .0006 0 1 0 -0.234)" x="390.70" y="396.16" font-size="3.27" text-anchor="start" fill="#111" stroke="#111" stroke-width="0.12">RVA/Human-wt/MOZ/0052/2012/G8P[4]</text>
<text transform="matrix(1 .0006 0 1 0 -0.234)" x="390.70" y="400.81" font-size="3.27" text-anchor="start" fill="#111" stroke="#111" stroke-width="0.12">RVA/Human-wt/KEN/KLF0564/2012/G8P[4]</text>
<circle cx="393.60" cy="404.27" r="1.7" fill="#DB6418"/>
<text transform="matrix(1 .0006 0 1 0 -0.238)" x="396.50" y="405.45" font-size="3.27" text-anchor="start" fill="#111" stroke="#111" stroke-width="0.12">RVA/Human-wt/RWA/UFS-NGS-MRC-DPRU582/2013/G8P[4]</text>
<circle cx="393.60" cy="408.92" r="1.7" fill="#DB6418"/>
<text transform="matrix(1 .0006 0 1 0 -0.238)" x="396.50" y="410.10" font-size="3.27" text-anchor="start" fill="#111" stroke="#111" stroke-width="0.12">RVA/Human-wt/RWA/UFS-NGS-MRC-DPRU853/2013/G8P[4]</text>
<circle cx="393.60" cy="413.57" r="1.7" fill="#DB6418"/>
<text transform="matrix(1 .0006 0 1 0 -0.238)" x="396.50" y="414.74" font-size="3.27" text-anchor="start" fill="#111" stroke="#111" stroke-width="0.12">RVA/Human-wt/RWA/UFS-NGS-MRC-DPRU596/2013/G8P[4]</text>
<circle cx="393.60" cy="418.21" r="1.7" fill="#DB6418"/>
<text transform="matrix(1 .0006 0 1 0 -0.238)" x="396.50" y="419.39" font-size="3.27" text-anchor="start" fill="#111" stroke="#111" stroke-width="0.12">RVA/Human-wt/RWA/UFS-NGS-MRC-DPRU642/2013/G8P[4]</text>
<text transform="matrix(1 .0006 0 1 0 -0.234)" x="390.60" y="424.04" font-size="3.27" text-anchor="start" fill="#111" stroke="#111" stroke-width="0.12">RVA/Human-wt/TZA/MRC-DPRU4570/2011/G8P[4]</text>
<text transform="matrix(1 .0006 0 1 0 -0.235)" x="391.50" y="428.68" font-size="3.27" text-anchor="start" fill="#111" stroke="#111" stroke-width="0.12">RVA/Human-wt/ZMB/MRC-DPRU1621/2008/G8P[4]</text>
<text transform="matrix(1 .0006 0 1 0 -0.238)" x="396.00" y="433.33" font-size="3.27" text-anchor="start" fill="#111" stroke="#111" stroke-width="0.12">RVA/Human-wt/AUS/D388/2013/G3P[8]</text>
<text transform="matrix(1 .0006 0 1 0 -0.237)" x="395.30" y="437.97" font-size="3.27" text-anchor="start" fill="#111" stroke="#111" stroke-width="0.12">RVA/Human-wt/JPN/B110005/2011/G2P[4]</text>
<path d="M497.70 315.00H498.90V438.00H497.70" stroke="#222" stroke-width="0.55" fill="none"/>
<text transform="matrix(1 .0006 0 1 0 -0.300)" x="500.80" y="377.85" font-size="3.2" font-weight="700" text-anchor="middle" fill="#111" stroke="#111" stroke-width="0.3">V</text>
<path d="M503.20 315.00H504.40V490.00H503.20" stroke="#222" stroke-width="0.55" fill="none"/>
<text transform="matrix(1 .0006 0 1 0 -0.304)" x="507.40" y="406.75" font-size="3.2" font-weight="700" text-anchor="middle" fill="#111" stroke="#111" stroke-width="0.3">N2</text>
<path d="M391.30 316.00V390.34" stroke="#222" stroke-width="0.55" fill="none"/>
<path d="M391.30 316.00H392.80" stroke="#222" stroke-width="0.55" fill="none"/>
<path d="M391.30 320.65H392.80" stroke="#222" stroke-width="0.55" fill="none"/>
<path d="M391.30 325.29H392.80" stroke="#222" stroke-width="0.55" fill="none"/>
<path d="M391.30 329.94H392.80" stroke="#222" stroke-width="0.55" fill="none"/>
<path d="M391.30 334.58H392.80" stroke="#222" stroke-width="0.55" fill="none"/>
<path d="M391.30 339.23H392.80" stroke="#222" stroke-width="0.55" fill="none"/>
<path d="M391.30 343.88H392.80" stroke="#222" stroke-width="0.55" fill="none"/>
<path d="M391.30 348.52H392.80" stroke="#222" stroke-width="0.55" fill="none"/>
<path d="M391.30 353.17H392.80" stroke="#222" stroke-width="0.55" fill="none"/>
<path d="M391.30 357.81H392.80" stroke="#222" stroke-width="0.55" fill="none"/>
<path d="M391.30 362.46H392.80" stroke="#222" stroke-width="0.55" fill="none"/>
<path d="M391.30 367.11H392.80" stroke="#222" stroke-width="0.55" fill="none"/>
<path d="M391.30 371.75H392.80" stroke="#222" stroke-width="0.55" fill="none"/>
<path d="M391.30 381.04H392.80" stroke="#222" stroke-width="0.55" fill="none"/>
<path d="M391.30 385.69H392.80" stroke="#222" stroke-width="0.55" fill="none"/>
<path d="M391.30 390.34H392.80" stroke="#222" stroke-width="0.55" fill="none"/>
<text transform="matrix(1 .0006 0 1 0 -0.233)" x="388.00" y="338.05" font-size="3.2" font-weight="700" text-anchor="middle" fill="#111" stroke="#111" stroke-width="0.3">99</text>
<text transform="matrix(1 .0006 0 1 0 -0.232)" x="386.60" y="362.95" font-size="3.2" font-weight="700" text-anchor="middle" fill="#111" stroke="#111" stroke-width="0.3">95</text>
<path d="M390.30 357.81H391.30" stroke="#222" stroke-width="0.55" fill="none"/>
<path d="M390.30 357.81V418.21" stroke="#222" stroke-width="0.55" fill="none"/>
<path d="M390.30 404.27H392.20" stroke="#222" stroke-width="0.55" fill="none"/>
<path d="M390.30 408.92H392.20" stroke="#222" stroke-width="0.55" fill="none"/>
<path d="M390.30 413.57H392.20" stroke="#222" stroke-width="0.55" fill="none"/>
<path d="M390.30 418.21H392.20" stroke="#222" stroke-width="0.55" fill="none"/>
<text transform="matrix(1 .0006 0 1 0 -0.232)" x="386.60" y="402.65" font-size="3.2" font-weight="700" text-anchor="middle" fill="#111" stroke="#111" stroke-width="0.3">73</text>
<text transform="matrix(1 .0006 0 1 0 -0.232)" x="387.40" y="406.15" font-size="3.2" font-weight="700" text-anchor="middle" fill="#111" stroke="#111" stroke-width="0.3">94</text>
<text transform="matrix(1 .0006 0 1 0 -0.231)" x="385.30" y="414.85" font-size="3.2" font-weight="700" text-anchor="middle" fill="#111" stroke="#111" stroke-width="0.3">96</text>
<text transform="matrix(1 .0006 0 1 0 -0.232)" x="387.40" y="421.05" font-size="3.2" font-weight="700" text-anchor="middle" fill="#111" stroke="#111" stroke-width="0.3">81</text>
<path d="M389.50 394.98H390.30" stroke="#222" stroke-width="0.55" fill="none"/>
<path d="M389.50 392.98V421.86" stroke="#222" stroke-width="0.55" fill="none"/>
<path d="M386.70 420.21H389.50" stroke="#222" stroke-width="0.55" fill="none"/>
<path d="M386.70 420.21V434.70" stroke="#222" stroke-width="0.55" fill="none"/>
<path d="M386.70 422.86H390.40" stroke="#222" stroke-width="0.55" fill="none"/>
<path d="M386.70 427.50H391.40" stroke="#222" stroke-width="0.55" fill="none"/>
<path d="M386.70 434.70H389.50" stroke="#222" stroke-width="0.55" fill="none"/>
<path d="M389.50 432.15V436.80" stroke="#222" stroke-width="0.55" fill="none"/>
<path d="M389.50 432.15H395.00" stroke="#222" stroke-width="0.55" fill="none"/>
<path d="M389.50 436.80H394.30" stroke="#222" stroke-width="0.55" fill="none"/>
<text transform="matrix(1 .0006 0 1 0 -0.229)" x="381.80" y="423.85" font-size="3.2" font-weight="700" text-anchor="middle" fill="#111" stroke="#111" stroke-width="0.3">100</text>
<text transform="matrix(1 .0006 0 1 0 -0.232)" x="386.40" y="439.15" font-size="3.2" font-weight="700" text-anchor="middle" fill="#111" stroke="#111" stroke-width="0.3">98</text>
<path d="M376.50 424.60H386.70" stroke="#222" stroke-width="0.55" fill="none"/>
<path d="M376.50 424.60V442.10" stroke="#222" stroke-width="0.55" fill="none"/>
<path d="M376.50 442.10H383.00" stroke="#222" stroke-width="0.55" fill="none"/>
<path d="M382.00 442.10L390.50 441.06L390.50 443.14Z" fill="#111"/>
<text transform="matrix(1 .0006 0 1 0 -0.236)" x="393.70" y="443.05" font-size="3.2" font-weight="700" text-anchor="middle" fill="#111" stroke="#111" stroke-width="0.3">VI</text>
<text transform="matrix(1 .0006 0 1 0 -0.224)" x="373.00" y="432.25" font-size="3.2" font-weight="700" text-anchor="middle" fill="#111" stroke="#111" stroke-width="0.3">78</text>
<path d="M374.00 432.50H376.50" stroke="#222" stroke-width="0.55" fill="none"/>
<path d="M374.00 432.50V447.20" stroke="#222" stroke-width="0.55" fill="none"/>
<path d="M374.00 447.20H381.00" stroke="#222" stroke-width="0.55" fill="none"/>
<path d="M380.00 447.20L387.40 446.17L387.40 448.24Z" fill="#111"/>
<text transform="matrix(1 .0006 0 1 0 -0.234)" x="389.80" y="448.35" font-size="3.2" font-weight="700" text-anchor="middle" fill="#111" stroke="#111" stroke-width="0.3">VII</text>
<text transform="matrix(1 .0006 0 1 0 -0.229)" x="382.30" y="446.35" font-size="3.2" font-weight="700" text-anchor="middle" fill="#111" stroke="#111" stroke-width="0.3">100</text>
<text transform="matrix(1 .0006 0 1 0 -0.222)" x="370.80" y="438.75" font-size="3.2" font-weight="700" text-anchor="middle" fill="#111" stroke="#111" stroke-width="0.3">98</text>
<path d="M368.30 440.20H374.00" stroke="#222" stroke-width="0.55" fill="none"/>
<path d="M368.30 440.20V452.30" stroke="#222" stroke-width="0.55" fill="none"/>
<path d="M368.30 452.30H381.00" stroke="#222" stroke-width="0.55" fill="none"/>
<path d="M380.00 452.30L387.40 451.26L387.40 453.33Z" fill="#111"/>
<text transform="matrix(1 .0006 0 1 0 -0.234)" x="390.80" y="453.45" font-size="3.2" font-weight="700" text-anchor="middle" fill="#111" stroke="#111" stroke-width="0.3">VIII</text>
<text transform="matrix(1 .0006 0 1 0 -0.230)" x="382.80" y="451.45" font-size="3.2" font-weight="700" text-anchor="middle" fill="#111" stroke="#111" stroke-width="0.3">100</text>
<path d="M365.70 446.50H368.30" stroke="#222" stroke-width="0.55" fill="none"/>
<path d="M365.70 446.50V457.40" stroke="#222" stroke-width="0.55" fill="none"/>
<path d="M365.70 457.40H383.00" stroke="#222" stroke-width="0.55" fill="none"/>
<path d="M381.50 457.40L390.50 456.36L390.50 458.44Z" fill="#111"/>
<text transform="matrix(1 .0006 0 1 0 -0.236)" x="393.80" y="458.55" font-size="3.2" font-weight="700" text-anchor="middle" fill="#111" stroke="#111" stroke-width="0.3">XIII</text>
<text transform="matrix(1 .0006 0 1 0 -0.226)" x="377.20" y="456.75" font-size="3.2" font-weight="700" text-anchor="middle" fill="#111" stroke="#111" stroke-width="0.3">96</text>
<text transform="matrix(1 .0006 0 1 0 -0.229)" x="382.40" y="456.75" font-size="3.2" font-weight="700" text-anchor="middle" fill="#111" stroke="#111" stroke-width="0.3">100</text>
<text transform="matrix(1 .0006 0 1 0 -0.218)" x="362.80" y="454.65" font-size="3.2" font-weight="700" text-anchor="middle" fill="#111" stroke="#111" stroke-width="0.3">95</text>
<path d="M351.80 454.80H365.70" stroke="#222" stroke-width="0.55" fill="none"/>
<path d="M351.80 454.80V506.60" stroke="#222" stroke-width="0.55" fill="none"/>
<path d="M301.50 481.00H351.80" stroke="#222" stroke-width="0.55" fill="none"/>
<path d="M301.50 481.00V525.50" stroke="#222" stroke-width="0.55" fill="none"/>
<path d="M301.50 525.50H395.00" stroke="#222" stroke-width="0.55" fill="none"/>
<text transform="matrix(1 .0006 0 1 0 -0.242)" x="403.10" y="527.58" font-size="3.27" text-anchor="start" fill="#111" stroke="#111" stroke-width="0.12">RVA/Multimammate Mouse-wt/ZMB/MpR12/2012/G4P[5?]</text>
<path d="M367.60 457.40V466.90" stroke="#222" stroke-width="0.55" fill="none"/>
<path d="M367.60 466.90H372.70" stroke="#222" stroke-width="0.55" fill="none"/>
<path d="M372.70 466.90V480.90" stroke="#222" stroke-width="0.55" fill="none"/>
<path d="M372.70 466.90H387.40" stroke="#222" stroke-width="0.55" fill="none"/>
<path d="M387.40 462.80V472.60" stroke="#222" stroke-width="0.55" fill="none"/>
<path d="M387.40 462.80H393.70" stroke="#222" stroke-width="0.55" fill="none"/>
<text transform="matrix(1 .0006 0 1 0 -0.238)" x="396.40" y="463.95" font-size="3.2" font-weight="700" text-anchor="middle" fill="#111" stroke="#111" stroke-width="0.3">III</text>
<text transform="matrix(1 .0006 0 1 0 -0.234)" x="390.00" y="461.65" font-size="3.2" font-weight="700" text-anchor="middle" fill="#111" stroke="#111" stroke-width="0.3">100</text>
<path d="M387.40 467.90H393.70" stroke="#222" stroke-width="0.55" fill="none"/>
<text transform="matrix(1 .0006 0 1 0 -0.238)" x="395.90" y="469.05" font-size="3.2" font-weight="700" text-anchor="middle" fill="#111" stroke="#111" stroke-width="0.3">I</text>
<path d="M387.40 472.60H392.40" stroke="#222" stroke-width="0.55" fill="none"/>
<text transform="matrix(1 .0006 0 1 0 -0.237)" x="395.00" y="473.75" font-size="3.2" font-weight="700" text-anchor="middle" fill="#111" stroke="#111" stroke-width="0.3">IV</text>
<text transform="matrix(1 .0006 0 1 0 -0.230)" x="383.50" y="465.25" font-size="3.2" font-weight="700" text-anchor="middle" fill="#111" stroke="#111" stroke-width="0.3">100</text>
<text transform="matrix(1 .0006 0 1 0 -0.221)" x="368.80" y="478.85" font-size="3.2" font-weight="700" text-anchor="middle" fill="#111" stroke="#111" stroke-width="0.3">78</text>
<path d="M372.70 480.90H378.40" stroke="#222" stroke-width="0.55" fill="none"/>
<path d="M378.40 477.10V484.70" stroke="#222" stroke-width="0.55" fill="none"/>
<path d="M378.40 477.10H385.00" stroke="#222" stroke-width="0.55" fill="none"/>
<path d="M384.00 477.10L393.70 476.06L393.70 478.14Z" fill="#111"/>
<text transform="matrix(1 .0006 0 1 0 -0.238)" x="397.20" y="478.25" font-size="3.2" font-weight="700" text-anchor="middle" fill="#111" stroke="#111" stroke-width="0.3">XII</text>
<text transform="matrix(1 .0006 0 1 0 -0.228)" x="379.80" y="475.95" font-size="3.2" font-weight="700" text-anchor="middle" fill="#111" stroke="#111" stroke-width="0.3">92</text>
<path d="M378.40 484.70H381.00" stroke="#222" stroke-width="0.55" fill="none"/>
<path d="M381.00 482.20V487.90" stroke="#222" stroke-width="0.55" fill="none"/>
<path d="M381.00 482.20H386.50" stroke="#222" stroke-width="0.55" fill="none"/>
<path d="M385.50 482.20L392.40 481.17L392.40 483.24Z" fill="#111"/>
<text transform="matrix(1 .0006 0 1 0 -0.237)" x="395.70" y="483.35" font-size="3.2" font-weight="700" text-anchor="middle" fill="#111" stroke="#111" stroke-width="0.3">IX</text>
<text transform="matrix(1 .0006 0 1 0 -0.231)" x="384.20" y="481.45" font-size="3.2" font-weight="700" text-anchor="middle" fill="#111" stroke="#111" stroke-width="0.3">98</text>
<path d="M381.00 487.90H382.60" stroke="#222" stroke-width="0.55" fill="none"/>
<path d="M382.60 487.90V493.00" stroke="#222" stroke-width="0.55" fill="none"/>
<path d="M382.60 487.90H386.50" stroke="#222" stroke-width="0.55" fill="none"/>
<path d="M385.50 487.90L392.40 486.86L392.40 488.94Z" fill="#111"/>
<text transform="matrix(1 .0006 0 1 0 -0.237)" x="395.70" y="489.05" font-size="3.2" font-weight="700" text-anchor="middle" fill="#111" stroke="#111" stroke-width="0.3">X</text>
<text transform="matrix(1 .0006 0 1 0 -0.231)" x="384.20" y="486.75" font-size="3.2" font-weight="700" text-anchor="middle" fill="#111" stroke="#111" stroke-width="0.3">99</text>
<path d="M382.60 493.00H395.60" stroke="#222" stroke-width="0.55" fill="none"/>
<text transform="matrix(1 .0006 0 1 0 -0.239)" x="398.20" y="494.15" font-size="3.2" font-weight="700" text-anchor="middle" fill="#111" stroke="#111" stroke-width="0.3">XI</text>
<text transform="matrix(1 .0006 0 1 0 -0.226)" x="376.00" y="486.15" font-size="3.2" font-weight="700" text-anchor="middle" fill="#111" stroke="#111" stroke-width="0.3">98</text>
<text transform="matrix(1 .0006 0 1 0 -0.227)" x="377.80" y="489.95" font-size="3.2" font-weight="700" text-anchor="middle" fill="#111" stroke="#111" stroke-width="0.3">77</text>
<path d="M351.80 506.60H378.20" stroke="#222" stroke-width="0.55" fill="none"/>
<path d="M378.20 498.20V521.05" stroke="#222" stroke-width="0.55" fill="none"/>
<path d="M378.20 498.20H379.30" stroke="#222" stroke-width="0.55" fill="none"/>
<text transform="matrix(1 .0006 0 1 0 -0.228)" x="379.80" y="499.38" font-size="3.27" text-anchor="start" fill="#111" stroke="#111" stroke-width="0.12">RVA/Human-wt/UGA/MUL-13-295/2013/G9P[8]</text>
<path d="M378.20 502.77H381.00" stroke="#222" stroke-width="0.55" fill="none"/>
<circle cx="382.50" cy="502.77" r="1.7" fill="#DB6418"/>
<text transform="matrix(1 .0006 0 1 0 -0.231)" x="385.40" y="503.95" font-size="3.27" text-anchor="start" fill="#111" stroke="#111" stroke-width="0.12">RVA/Human-wt/RWA/UFS-NGS-MRC-DPRU478/2013/G9P[4]</text>
<path d="M378.20 507.34H380.00" stroke="#222" stroke-width="0.55" fill="none"/>
<text transform="matrix(1 .0006 0 1 0 -0.228)" x="380.60" y="508.52" font-size="3.27" text-anchor="start" fill="#111" stroke="#111" stroke-width="0.12">RVA/Human-wt/ZAF/MRC-DPRU135/2009/G1P[8]</text>
<path d="M378.20 511.91H380.00" stroke="#222" stroke-width="0.55" fill="none"/>
<text transform="matrix(1 .0006 0 1 0 -0.228)" x="380.60" y="513.09" font-size="3.27" text-anchor="start" fill="#111" stroke="#111" stroke-width="0.12">RVA/Human-wt/TGO/MRC-DPRU4582/2011/G1P[8]</text>
<path d="M378.20 516.48H380.00" stroke="#222" stroke-width="0.55" fill="none"/>
<text transform="matrix(1 .0006 0 1 0 -0.228)" x="380.60" y="517.66" font-size="3.27" text-anchor="start" fill="#111" stroke="#111" stroke-width="0.12">RVA/Human-wt/KEN/MRC-DPRU1606/2009/G1P[8]</text>
<path d="M378.20 521.05H380.00" stroke="#222" stroke-width="0.55" fill="none"/>
<text transform="matrix(1 .0006 0 1 0 -0.228)" x="380.60" y="522.23" font-size="3.27" text-anchor="start" fill="#111" stroke="#111" stroke-width="0.12" textLength="70.5" lengthAdjust="spacingAndGlyphs">RVA/Human-wt/CAN/RT133-07/2008/G1P[8]</text>
<text transform="matrix(1 .0006 0 1 0 -0.234)" x="390.40" y="497.35" font-size="3.2" font-weight="700" text-anchor="middle" fill="#111" stroke="#111" stroke-width="0.3">100</text>
<text transform="matrix(1 .0006 0 1 0 -0.224)" x="373.20" y="510.95" font-size="3.2" font-weight="700" text-anchor="middle" fill="#111" stroke="#111" stroke-width="0.3">100</text>
<path d="M483.10 496.80H484.30V522.80H483.10" stroke="#222" stroke-width="0.55" fill="none"/>
<text transform="matrix(1 .0006 0 1 0 -0.292)" x="487.40" y="510.85" font-size="3.2" font-weight="700" text-anchor="middle" fill="#111" stroke="#111" stroke-width="0.3">N1</text>
<path d="M316.60 533.60H332.50" stroke="#222" stroke-width="0.55" fill="none"/>
<path d="M316.60 532.40V534.80" stroke="#222" stroke-width="0.55" fill="none"/>
<path d="M332.50 532.40V534.80" stroke="#222" stroke-width="0.55" fill="none"/>
<text transform="matrix(1 .0006 0 1 0 -0.195)" x="324.30" y="538.95" font-size="3.2" font-weight="700" text-anchor="middle" fill="#111" stroke="#111" stroke-width="0.3">0.05</text>
</svg>
</body></html>
